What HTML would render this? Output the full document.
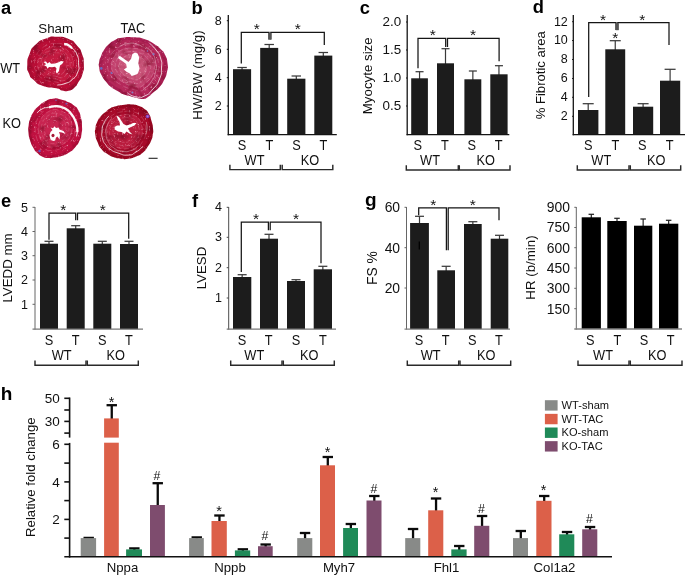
<!DOCTYPE html>
<html><head><meta charset="utf-8"><title>Figure</title>
<style>
html,body{margin:0;padding:0;background:#fff;}
body{width:685px;height:576px;overflow:hidden;}
svg{display:block;font-family:"Liberation Sans",Arial,Helvetica,sans-serif;}
</style></head><body>
<svg width="685" height="576" viewBox="0 0 685 576">
<rect width="685" height="576" fill="#fff"/>
<text x="0.90" y="13.80" font-size="18.3" text-anchor="start" font-weight="bold" fill="#000">a</text>
<text x="55.70" y="32.90" font-size="13.3" text-anchor="middle" font-weight="normal" fill="#111">Sham</text>
<text transform="translate(132.90,32.50) scale(1,1.07)" font-size="12.9" text-anchor="middle" font-weight="normal" fill="#111">TAC</text>
<text transform="translate(0.30,73.00) scale(1,1.09)" font-size="12.8" text-anchor="start" font-weight="normal" fill="#111">WT</text>
<text transform="translate(2.40,128.10) scale(1,1.09)" font-size="12.8" text-anchor="start" font-weight="normal" fill="#111">KO</text>
<line x1="148.60" y1="158.30" x2="157.60" y2="158.30" stroke="#222" stroke-width="1.1" stroke-linecap="butt"/>
<defs><filter id="bl" x="-5%" y="-5%" width="110%" height="110%" color-interpolation-filters="sRGB">
<feTurbulence type="fractalNoise" baseFrequency="0.45" numOctaves="3" seed="4" result="n"/>
<feColorMatrix in="n" type="matrix" values="0 0 0 0 1  0 0 0 0 0.82  0 0 0 0 0.88  2.2 0 0 0 -1.38" result="w"/>
<feComposite in="w" in2="SourceGraphic" operator="in" result="wt"/>
<feTurbulence type="fractalNoise" baseFrequency="0.12" numOctaves="2" seed="9" result="n2"/>
<feColorMatrix in="n2" type="matrix" values="0 0 0 0 0.45  0 0 0 0 0.02  0 0 0 0 0.12  0 1.6 0 0 -0.78" result="d"/>
<feComposite in="d" in2="SourceGraphic" operator="in" result="dt"/>
<feMerge result="m"><feMergeNode in="SourceGraphic"/><feMergeNode in="dt"/><feMergeNode in="wt"/></feMerge>
<feGaussianBlur in="m" stdDeviation="0.45"/>
</filter><filter id="bl2" x="-5%" y="-5%" width="110%" height="110%"><feGaussianBlur stdDeviation="0.45"/></filter></defs>
<g filter="url(#bl)">
<path d="M56.5,36.7 C49.0,36.5 52.9,35.9 46.0,38.5 C39.1,41.1 41.3,39.4 35.8,44.6 C30.3,49.8 32.3,47.1 29.5,54.0 C26.7,60.9 27.5,58.7 27.3,65.2 C27.1,71.7 27.0,68.6 29.0,73.5 C31.0,78.4 28.7,75.6 33.4,79.8 C38.1,84.0 35.3,83.2 43.0,86.0 C50.7,88.8 50.2,86.8 56.5,88.3 C62.8,89.8 58.0,89.7 62.0,90.5 C66.0,91.3 64.4,91.8 68.6,90.8 C72.8,89.8 71.3,90.3 74.5,87.5 C77.7,84.7 75.6,86.8 78.3,82.3 C81.0,77.8 80.7,80.1 82.5,74.0 C84.3,67.9 84.0,70.7 83.8,64.0 C83.6,57.3 84.2,60.1 82.0,54.0 C79.8,47.9 81.6,50.8 77.1,45.8 C72.6,40.8 75.5,42.1 68.6,39.1 C61.7,36.1 64.0,36.9 56.5,36.7 Z" fill="#ab0c32"/>
<path d="M56.4,39.4 C49.6,39.2 53.2,38.6 47.0,41.0 C40.7,43.4 42.7,41.8 37.8,46.5 C32.8,51.1 34.6,48.8 32.1,55.0 C29.5,61.1 30.3,59.2 30.1,65.0 C30.0,70.9 29.8,68.1 31.6,72.5 C33.5,76.9 31.4,74.4 35.6,78.2 C39.8,81.9 37.3,81.2 44.2,83.8 C51.2,86.3 50.7,84.5 56.4,85.8 C62.1,87.2 57.7,87.0 61.4,87.8 C65.0,88.5 63.5,89.0 67.3,88.1 C71.0,87.2 69.7,87.6 72.6,85.1 C75.5,82.5 73.6,84.5 76.0,80.4 C78.4,76.4 78.1,78.4 79.8,73.0 C81.5,67.5 81.1,70.0 81.0,64.0 C80.8,58.0 81.4,60.4 79.3,55.0 C77.3,49.5 79.0,52.0 74.9,47.6 C70.9,43.1 73.5,44.3 67.3,41.5 C61.1,38.8 63.2,39.6 56.4,39.4 Z" fill="#b90e36"/>
<path d="M56.1,46.3 C51.3,46.2 53.8,45.8 49.4,47.5 C45.0,49.2 46.4,48.1 42.9,51.4 C39.4,54.7 40.7,53.0 38.9,57.4 C37.0,61.8 37.6,60.4 37.5,64.6 C37.3,68.7 37.2,66.8 38.5,69.9 C39.8,73.0 38.4,71.3 41.4,73.9 C44.3,76.6 42.6,76.1 47.5,77.9 C52.4,79.7 52.1,78.4 56.1,79.4 C60.2,80.3 57.1,80.2 59.7,80.8 C62.2,81.3 61.2,81.6 63.9,81.0 C66.6,80.3 65.6,80.7 67.7,78.9 C69.7,77.0 68.4,78.4 70.1,75.5 C71.8,72.7 71.6,74.1 72.8,70.2 C74.0,66.3 73.7,68.1 73.6,63.8 C73.5,59.6 73.9,61.3 72.5,57.4 C71.0,53.5 72.2,55.4 69.3,52.2 C66.5,49.0 68.3,49.8 63.9,47.9 C59.5,45.9 61.0,46.5 56.1,46.3 Z" fill="#c31a40"/>
<path d="M55.9,52.8 C52.9,52.7 54.5,52.4 51.7,53.5 C48.9,54.6 49.8,53.9 47.6,55.9 C45.4,58.0 46.2,57.0 45.1,59.7 C44.0,62.4 44.3,61.6 44.2,64.2 C44.2,66.8 44.1,65.6 44.9,67.5 C45.7,69.4 44.8,68.4 46.7,70.0 C48.5,71.7 47.4,71.4 50.5,72.5 C53.6,73.6 53.4,72.8 55.9,73.4 C58.4,74.0 56.5,74.0 58.1,74.3 C59.7,74.6 59.1,74.8 60.7,74.4 C62.4,74.0 61.8,74.2 63.1,73.1 C64.4,72.0 63.6,72.8 64.6,71.0 C65.7,69.2 65.6,70.1 66.3,67.7 C67.0,65.3 66.9,66.4 66.8,63.7 C66.8,61.0 67.0,62.1 66.1,59.7 C65.2,57.3 65.9,58.4 64.1,56.4 C62.4,54.4 63.5,55.0 60.7,53.7 C58.0,52.5 58.9,52.9 55.9,52.8 Z" fill="none" stroke="#e9a0b4" stroke-width="0.5" stroke-dasharray="3 1.5" opacity="0.55"/>
<path d="M56.0,49.7 C52.1,49.6 54.2,49.3 50.6,50.6 C47.1,52.0 48.2,51.1 45.4,53.8 C42.5,56.4 43.6,55.1 42.1,58.6 C40.7,62.1 41.1,61.0 41.0,64.4 C40.9,67.7 40.8,66.1 41.9,68.7 C42.9,71.2 41.7,69.7 44.1,71.9 C46.5,74.0 45.1,73.6 49.1,75.1 C53.0,76.5 52.8,75.5 56.0,76.3 C59.3,77.0 56.8,77.0 58.8,77.4 C60.9,77.8 60.1,78.1 62.2,77.6 C64.4,77.0 63.6,77.3 65.3,75.9 C67.0,74.4 65.9,75.5 67.2,73.2 C68.6,70.9 68.5,72.0 69.4,68.9 C70.3,65.8 70.2,67.2 70.1,63.8 C70.0,60.3 70.3,61.7 69.1,58.6 C68.0,55.5 68.9,56.9 66.6,54.4 C64.3,51.8 65.8,52.5 62.2,50.9 C58.7,49.4 59.9,49.8 56.0,49.7 Z" fill="none" stroke="#e9a0b4" stroke-width="0.5" stroke-dasharray="4 2.0" opacity="0.55"/>
<path d="M56.1,46.6 C51.4,46.5 53.9,46.1 49.5,47.8 C45.2,49.4 46.6,48.3 43.1,51.6 C39.6,54.8 40.9,53.2 39.1,57.5 C37.3,61.8 37.8,60.5 37.7,64.6 C37.6,68.7 37.5,66.7 38.8,69.8 C40.1,72.9 38.6,71.1 41.6,73.8 C44.5,76.4 42.8,75.9 47.6,77.7 C52.5,79.5 52.1,78.2 56.1,79.1 C60.1,80.1 57.1,80.0 59.6,80.5 C62.1,81.0 61.1,81.3 63.8,80.7 C66.4,80.1 65.4,80.4 67.5,78.6 C69.5,76.8 68.2,78.2 69.9,75.3 C71.5,72.5 71.4,74.0 72.5,70.1 C73.7,66.3 73.4,68.0 73.3,63.8 C73.2,59.6 73.6,61.3 72.2,57.5 C70.8,53.7 71.9,55.5 69.1,52.3 C66.3,49.2 68.1,50.0 63.8,48.1 C59.4,46.2 60.9,46.7 56.1,46.6 Z" fill="none" stroke="#e9a0b4" stroke-width="0.5" stroke-dasharray="5 2.5" opacity="0.55"/>
<path d="M56.2,43.5 C50.6,43.4 53.6,42.9 48.4,44.9 C43.3,46.8 44.9,45.6 40.8,49.4 C36.7,53.3 38.2,51.3 36.1,56.4 C34.0,61.5 34.6,59.9 34.5,64.8 C34.4,69.6 34.2,67.3 35.8,71.0 C37.3,74.6 35.6,72.5 39.0,75.6 C42.5,78.7 40.5,78.2 46.2,80.3 C51.9,82.4 51.5,80.9 56.2,82.0 C61.0,83.1 57.3,83.0 60.3,83.6 C63.3,84.2 62.2,84.6 65.3,83.8 C68.4,83.1 67.2,83.5 69.7,81.4 C72.1,79.3 70.5,80.9 72.5,77.5 C74.5,74.2 74.2,75.9 75.6,71.3 C77.0,66.8 76.7,68.8 76.6,63.9 C76.5,58.9 76.9,60.9 75.2,56.4 C73.6,51.9 74.9,54.0 71.6,50.3 C68.3,46.6 70.4,47.6 65.3,45.3 C60.1,43.1 61.9,43.7 56.2,43.5 Z" fill="none" stroke="#e9a0b4" stroke-width="0.5" stroke-dasharray="6 3.0" opacity="0.55"/>
</g>
<g filter="url(#bl2)">
<path d="M65.0,44.2 C67.3,45.5 68.0,44.4 72.0,48.0 C76.0,51.6 74.9,49.7 77.1,55.0 C79.3,60.3 78.4,58.3 78.6,64.0 C78.8,69.7 79.9,66.8 77.8,72.0 C75.7,77.2 76.6,75.7 72.3,79.5 C68.0,83.3 69.9,81.7 65.0,83.5 C60.1,85.3 60.1,84.5 57.7,85.0" fill="none" stroke="#fff" stroke-width="0.9" stroke-linecap="round" opacity="0.9"/>
<path d="M65.0,44.0 C66.2,44.4 66.3,43.9 68.5,45.2 C70.7,46.5 70.5,46.9 71.5,47.8" fill="none" stroke="#fff" stroke-width="2.2" stroke-linecap="round" opacity="0.95"/>
<path d="M43.5,62 L46,61.5 L47.5,63.5 L49.5,62 L51,63.8 L55,63.5 L58,62.5 L61,61 L63.8,61.5 L62.5,63.5 L60,65.5 L59.5,68 L59,71 L57,73.5 L55.8,72 L56.5,68.5 L55,66.8 L52,67.3 L49,67 L47.5,68.8 L46.5,66.5 L44.5,65.5 L46,64 Z" fill="#fff"/>
</g>
<g filter="url(#bl)">
<path d="M122.0,37.8 C128.0,36.9 125.6,36.9 133.0,37.3 C140.4,37.7 136.9,36.8 144.1,39.1 C151.3,41.4 149.0,41.0 154.5,44.3 C160.0,47.6 157.0,45.5 160.5,49.0 C164.0,52.5 162.6,49.8 165.0,54.8 C167.4,59.8 166.9,58.2 167.6,63.9 C168.3,69.6 168.1,66.8 167.0,72.0 C165.9,77.2 166.8,74.5 164.3,79.5 C161.8,84.5 163.2,82.7 159.5,87.0 C155.8,91.3 157.0,89.2 153.2,92.5 C149.4,95.8 151.5,94.8 148.0,97.0 C144.5,99.2 146.5,98.7 142.8,99.0 C139.1,99.3 140.9,98.9 137.0,98.0 C133.1,97.1 135.4,97.6 131.1,96.4 C126.8,95.2 128.4,96.2 124.0,94.5 C119.6,92.8 122.3,93.7 118.0,91.2 C113.7,88.7 114.9,90.0 111.0,87.0 C107.1,84.0 109.5,86.1 106.3,82.1 C103.1,78.1 103.9,79.8 101.5,75.0 C99.1,70.2 99.9,72.3 99.2,67.8 C98.5,63.3 98.7,65.4 99.3,61.5 C99.9,57.6 99.5,59.8 101.1,56.0 C102.7,52.2 101.4,53.9 104.0,50.0 C106.6,46.1 105.2,47.6 108.9,44.3 C112.6,41.0 110.6,42.2 115.0,40.0 C119.4,37.8 116.0,38.7 122.0,37.8 Z" fill="#a81e52"/>
<path d="M123.0,40.7 C128.4,39.9 126.3,39.9 132.9,40.3 C139.6,40.7 136.5,39.8 142.9,41.9 C149.4,44.0 147.4,43.6 152.3,46.6 C157.2,49.5 154.5,47.6 157.7,50.8 C160.8,53.9 159.6,51.5 161.8,56.0 C163.9,60.5 163.5,59.0 164.1,64.2 C164.7,69.4 164.5,66.8 163.6,71.5 C162.6,76.2 163.4,73.8 161.1,78.2 C158.9,82.8 160.1,81.1 156.8,85.0 C153.5,88.9 154.6,87.0 151.1,90.0 C147.7,93.0 149.6,92.0 146.4,94.0 C143.3,96.0 145.1,95.5 141.8,95.8 C138.5,96.1 140.1,95.7 136.6,94.9 C133.0,94.1 135.1,94.5 131.2,93.5 C127.3,92.4 128.8,93.3 124.8,91.8 C120.9,90.2 123.3,91.0 119.5,88.8 C115.6,86.5 116.7,87.7 113.2,85.0 C109.6,82.3 111.8,84.2 108.9,80.6 C106.1,77.0 106.7,78.5 104.6,74.2 C102.5,69.9 103.2,71.8 102.5,67.7 C101.9,63.7 102.1,65.6 102.6,62.0 C103.2,58.5 102.8,60.5 104.2,57.1 C105.6,53.7 104.5,55.2 106.8,51.7 C109.2,48.2 108.0,49.6 111.3,46.6 C114.6,43.6 112.8,44.6 116.8,42.7 C120.7,40.8 117.7,41.5 123.0,40.7 Z" fill="#b5285a"/>
<path d="M125.8,48.3 C129.6,47.7 128.1,47.7 132.8,48.0 C137.5,48.3 135.3,47.7 139.9,49.1 C144.5,50.6 143.1,50.4 146.6,52.5 C150.1,54.6 148.2,53.2 150.4,55.5 C152.7,57.7 151.8,56.0 153.3,59.2 C154.8,62.4 154.5,61.3 155.0,65.0 C155.4,68.7 155.3,66.9 154.6,70.2 C153.9,73.5 154.5,71.8 152.9,75.0 C151.3,78.2 152.1,77.0 149.8,79.8 C147.4,82.6 148.2,81.2 145.7,83.3 C143.3,85.5 144.6,84.8 142.4,86.2 C140.2,87.6 141.4,87.3 139.1,87.5 C136.7,87.7 137.9,87.4 135.4,86.8 C132.9,86.3 134.4,86.6 131.6,85.8 C128.8,85.1 129.9,85.7 127.1,84.6 C124.3,83.5 126.0,84.1 123.2,82.5 C120.4,80.9 121.2,81.7 118.7,79.8 C116.2,77.9 117.8,79.2 115.7,76.7 C113.7,74.1 114.2,75.2 112.7,72.1 C111.1,69.1 111.7,70.4 111.2,67.5 C110.7,64.6 110.8,66.0 111.3,63.5 C111.7,61.0 111.4,62.4 112.4,60.0 C113.4,57.5 112.6,58.6 114.3,56.1 C115.9,53.6 115.0,54.6 117.4,52.5 C119.7,50.3 118.5,51.1 121.3,49.7 C124.1,48.3 121.9,48.9 125.8,48.3 Z" fill="#c2426e"/>
<path d="M128.1,54.7 C130.6,54.4 129.6,54.3 132.7,54.5 C135.8,54.7 134.4,54.3 137.4,55.3 C140.4,56.3 139.4,56.1 141.7,57.5 C144.0,58.9 142.8,58.0 144.3,59.4 C145.7,60.9 145.2,59.8 146.2,61.9 C147.1,64.0 147.0,63.3 147.2,65.7 C147.5,68.1 147.5,66.9 147.0,69.1 C146.5,71.3 146.9,70.1 145.9,72.2 C144.8,74.4 145.4,73.6 143.8,75.4 C142.3,77.2 142.8,76.3 141.2,77.7 C139.6,79.1 140.5,78.7 139.0,79.6 C137.6,80.5 138.4,80.3 136.8,80.4 C135.3,80.6 136.0,80.4 134.4,80.0 C132.8,79.7 133.7,79.8 131.9,79.3 C130.1,78.9 130.8,79.3 128.9,78.5 C127.1,77.8 128.2,78.2 126.4,77.2 C124.6,76.1 125.1,76.7 123.5,75.4 C121.8,74.1 122.8,75.0 121.5,73.3 C120.2,71.7 120.5,72.4 119.5,70.4 C118.5,68.4 118.8,69.2 118.5,67.3 C118.2,65.4 118.3,66.3 118.6,64.7 C118.8,63.0 118.7,64.0 119.3,62.4 C120.0,60.8 119.4,61.5 120.5,59.9 C121.6,58.2 121.0,58.9 122.6,57.5 C124.1,56.1 123.3,56.6 125.2,55.7 C127.0,54.7 125.6,55.1 128.1,54.7 Z" fill="#c95479"/>
<path d="M128.3,55.3 C130.7,55.0 129.8,54.9 132.7,55.1 C135.6,55.3 134.3,54.9 137.1,55.8 C140.0,56.8 139.1,56.6 141.3,57.9 C143.5,59.2 142.3,58.4 143.7,59.8 C145.1,61.2 144.6,60.1 145.5,62.1 C146.4,64.1 146.3,63.5 146.5,65.8 C146.8,68.1 146.7,66.9 146.3,69.0 C145.9,71.1 146.2,70.0 145.2,72.0 C144.2,74.0 144.8,73.3 143.3,75.0 C141.8,76.7 142.3,75.9 140.8,77.2 C139.2,78.5 140.1,78.1 138.7,79.0 C137.3,79.9 138.1,79.7 136.6,79.8 C135.2,79.9 135.9,79.7 134.3,79.4 C132.7,79.1 133.7,79.2 131.9,78.8 C130.2,78.3 130.8,78.7 129.1,78.0 C127.4,77.3 128.4,77.7 126.7,76.7 C125.0,75.7 125.5,76.2 123.9,75.0 C122.3,73.8 123.3,74.6 122.0,73.0 C120.8,71.4 121.0,72.1 120.1,70.2 C119.2,68.3 119.5,69.1 119.2,67.3 C118.9,65.5 119.0,66.4 119.2,64.8 C119.5,63.2 119.3,64.1 119.9,62.6 C120.6,61.1 120.1,61.8 121.1,60.2 C122.1,58.6 121.6,59.3 123.1,57.9 C124.5,56.6 123.8,57.1 125.5,56.2 C127.2,55.3 125.9,55.7 128.3,55.3 Z" fill="none" stroke="#f0c0d2" stroke-width="0.5" stroke-dasharray="3 1.5" opacity="0.55"/>
<path d="M127.1,52.0 C130.2,51.5 129.0,51.5 132.8,51.7 C136.6,51.9 134.8,51.4 138.5,52.6 C142.2,53.8 141.0,53.6 143.8,55.3 C146.6,57.0 145.1,55.9 146.9,57.7 C148.7,59.5 148.0,58.2 149.2,60.7 C150.5,63.3 150.2,62.5 150.6,65.4 C150.9,68.4 150.8,66.9 150.3,69.6 C149.7,72.3 150.2,70.9 148.9,73.4 C147.6,76.0 148.3,75.1 146.4,77.3 C144.5,79.5 145.1,78.4 143.2,80.1 C141.2,81.8 142.3,81.3 140.5,82.5 C138.7,83.6 139.7,83.3 137.8,83.5 C135.9,83.7 136.8,83.4 134.8,83.0 C132.8,82.5 134.0,82.7 131.8,82.1 C129.5,81.5 130.4,82.1 128.1,81.2 C125.9,80.3 127.3,80.8 125.0,79.5 C122.8,78.2 123.4,78.9 121.4,77.3 C119.4,75.7 120.6,76.8 119.0,74.8 C117.4,72.7 117.8,73.6 116.5,71.1 C115.3,68.7 115.7,69.7 115.4,67.4 C115.0,65.1 115.1,66.2 115.4,64.2 C115.7,62.1 115.5,63.3 116.3,61.3 C117.1,59.4 116.5,60.3 117.8,58.2 C119.2,56.2 118.5,57.0 120.3,55.3 C122.2,53.6 121.2,54.2 123.5,53.1 C125.7,52.0 124.0,52.4 127.1,52.0 Z" fill="none" stroke="#f0c0d2" stroke-width="0.5" stroke-dasharray="4 2.0" opacity="0.55"/>
<path d="M125.9,48.6 C129.7,48.0 128.2,48.0 132.8,48.3 C137.5,48.6 135.3,48.0 139.8,49.4 C144.3,50.9 142.9,50.6 146.4,52.7 C149.8,54.8 147.9,53.5 150.1,55.7 C152.3,57.9 151.5,56.2 153.0,59.3 C154.5,62.4 154.2,61.4 154.6,65.0 C155.0,68.7 154.9,66.9 154.2,70.2 C153.5,73.4 154.1,71.7 152.5,74.9 C151.0,78.0 151.8,76.9 149.5,79.6 C147.2,82.3 148.0,81.0 145.5,83.1 C143.1,85.2 144.4,84.5 142.3,85.9 C140.1,87.3 141.3,87.0 139.0,87.2 C136.7,87.4 137.8,87.1 135.3,86.5 C132.9,86.0 134.3,86.3 131.6,85.5 C128.9,84.8 129.9,85.4 127.1,84.3 C124.4,83.2 126.1,83.8 123.4,82.2 C120.6,80.7 121.4,81.5 119.0,79.6 C116.5,77.7 118.0,79.0 116.0,76.5 C114.0,74.0 114.5,75.0 113.0,72.0 C111.5,69.0 112.0,70.3 111.5,67.5 C111.1,64.7 111.2,66.0 111.6,63.5 C112.0,61.1 111.7,62.5 112.7,60.1 C113.7,57.7 112.9,58.7 114.5,56.3 C116.2,53.8 115.3,54.8 117.6,52.7 C119.9,50.6 118.7,51.4 121.5,50.0 C124.2,48.6 122.1,49.2 125.9,48.6 Z" fill="none" stroke="#f0c0d2" stroke-width="0.5" stroke-dasharray="5 2.5" opacity="0.55"/>
<path d="M124.7,45.2 C129.1,44.6 127.4,44.6 132.9,44.9 C138.4,45.2 135.8,44.5 141.1,46.2 C146.5,48.0 144.8,47.6 148.9,50.1 C153.0,52.5 150.8,51.0 153.4,53.6 C156.0,56.2 154.9,54.2 156.7,57.9 C158.5,61.6 158.2,60.4 158.6,64.7 C159.1,69.0 159.0,66.9 158.2,70.7 C157.4,74.6 158.1,72.6 156.2,76.3 C154.3,80.0 155.4,78.7 152.6,81.9 C149.9,85.1 150.8,83.5 147.9,86.0 C145.1,88.5 146.6,87.7 144.0,89.3 C141.5,91.0 142.9,90.6 140.2,90.8 C137.4,91.1 138.8,90.7 135.9,90.1 C132.9,89.4 134.7,89.8 131.5,88.9 C128.2,88.0 129.4,88.8 126.2,87.5 C122.9,86.2 124.9,86.9 121.7,85.0 C118.5,83.2 119.4,84.2 116.5,81.9 C113.6,79.6 115.3,81.2 113.0,78.2 C110.6,75.3 111.2,76.5 109.4,73.0 C107.6,69.4 108.2,70.9 107.7,67.6 C107.1,64.2 107.3,65.8 107.8,62.9 C108.2,60.0 107.9,61.7 109.1,58.8 C110.3,55.9 109.3,57.2 111.3,54.3 C113.2,51.4 112.2,52.6 114.9,50.1 C117.6,47.6 116.2,48.5 119.5,46.9 C122.7,45.3 120.2,45.9 124.7,45.2 Z" fill="none" stroke="#f0c0d2" stroke-width="0.5" stroke-dasharray="6 3.0" opacity="0.55"/>
</g>
<g filter="url(#bl2)">
<path d="M149.3,43.0 C151.5,45.3 152.3,45.0 156.0,50.0 C159.7,55.0 158.7,52.0 160.5,58.0 C162.3,64.0 161.8,61.0 161.5,68.0 C161.2,75.0 162.3,72.0 159.5,79.0 C156.7,86.0 158.1,83.3 153.0,89.0 C147.9,94.7 149.8,93.6 144.1,96.2 C138.4,98.8 141.4,97.7 136.0,96.8 C130.6,95.9 130.7,94.6 128.0,93.5" fill="none" stroke="#fff" stroke-width="0.9" stroke-linecap="round" opacity="0.85"/>
<path d="M146.0,47.0 C148.0,49.0 148.8,48.0 152.0,53.0 C155.2,58.0 154.3,55.7 155.5,62.0 C156.7,68.3 157.0,65.3 155.5,72.0 C154.0,78.7 155.0,76.3 151.0,82.0 C147.0,87.7 146.0,86.7 143.5,89.0" fill="none" stroke="#fff" stroke-width="0.6" stroke-linecap="round" opacity="0.6"/>
<path d="M120.0,46.0 C122.7,45.2 122.7,44.2 128.0,43.5 C133.3,42.8 131.3,43.0 136.0,44.0 C140.7,45.0 140.0,45.7 142.0,46.5" fill="none" stroke="#fff" stroke-width="0.6" stroke-linecap="round" opacity="0.6"/>
<path d="M118.1,56.7 L120,56.1 L124.6,59.3 L128.5,61.9 L131.1,58.7 L132.4,54.1 L135,52.4 L137.6,53.5 L139.2,57.4 L138.3,63.2 L139.6,68.4 L137.9,73.6 L135,75 L131.7,75.9 L129.8,73.6 L126.5,71.7 L123.9,69.5 L126.8,67.5 L126.1,64.1 L122.6,61.3 L118.7,58.7 Z" fill="#fff"/>
<circle cx="101.3" cy="68.4" r="1.3" fill="#5b78d8" opacity="0.85"/>
<circle cx="111.5" cy="73" r="1.0" fill="#6a7fd0" opacity="0.85"/>
<circle cx="153.5" cy="54.3" r="1.0" fill="#6a7fd0" opacity="0.85"/>
<circle cx="132.4" cy="92.5" r="1.0" fill="#7f8fd8" opacity="0.85"/>
<circle cx="147.5" cy="51" r="0.8" fill="#7f8fd8" opacity="0.85"/>
</g>
<g filter="url(#bl)">
<path d="M52.8,98.7 C58.1,98.0 55.7,98.3 61.0,99.5 C66.3,100.7 64.3,100.3 68.6,102.3 C72.9,104.3 70.8,102.9 74.0,105.5 C77.2,108.1 76.0,106.0 78.3,110.2 C80.6,114.4 79.8,112.7 81.0,118.0 C82.2,123.3 81.8,120.7 82.0,126.0 C82.2,131.3 82.3,129.1 81.5,134.0 C80.7,138.9 81.8,136.1 79.6,140.6 C77.4,145.1 78.7,143.4 75.0,147.5 C71.3,151.6 73.1,150.0 68.6,152.8 C64.1,155.6 66.4,154.4 61.5,156.0 C56.6,157.6 58.5,156.9 54.0,157.6 C49.5,158.3 51.6,158.2 48.0,158.0 C44.4,157.8 46.6,158.7 43.1,157.0 C39.6,155.3 40.7,156.0 37.5,153.0 C34.3,150.0 35.9,152.2 33.4,147.9 C30.9,143.6 31.6,145.3 30.0,140.0 C28.4,134.7 28.9,137.1 28.5,132.1 C28.1,127.1 28.1,129.5 28.7,125.0 C29.3,120.5 28.7,123.0 30.3,118.7 C31.9,114.4 30.9,116.0 33.5,112.0 C36.1,108.0 34.4,110.1 38.2,106.6 C42.0,103.1 40.1,104.1 45.0,101.5 C49.9,98.9 47.5,99.4 52.8,98.7 Z" fill="#b40e3c"/>
<path d="M53.0,101.7 C57.8,101.1 55.7,101.3 60.4,102.4 C65.1,103.5 63.3,103.1 67.2,104.9 C71.1,106.7 69.2,105.4 72.1,107.8 C75.0,110.2 73.9,108.3 76.0,112.0 C78.1,115.8 77.3,114.3 78.4,119.0 C79.5,123.8 79.2,121.5 79.3,126.2 C79.4,131.1 79.6,129.1 78.8,133.4 C78.1,137.8 79.1,135.3 77.1,139.4 C75.2,143.4 76.3,141.9 73.0,145.6 C69.7,149.3 71.3,147.8 67.2,150.4 C63.2,152.9 65.2,151.8 60.9,153.2 C56.5,154.7 58.1,154.1 54.1,154.7 C50.1,155.3 52.0,155.2 48.7,155.1 C45.4,154.9 47.4,155.7 44.3,154.2 C41.1,152.7 42.2,153.3 39.2,150.6 C36.3,147.8 37.8,149.9 35.6,146.0 C33.3,142.1 34.0,143.6 32.5,138.8 C31.0,134.1 31.5,136.2 31.1,131.7 C30.8,127.2 30.8,129.4 31.3,125.3 C31.9,121.3 31.3,123.6 32.8,119.7 C34.2,115.8 33.3,117.3 35.6,113.7 C38.0,110.0 36.4,111.9 39.9,108.8 C43.3,105.6 41.6,106.6 46.0,104.2 C50.4,101.8 48.2,102.3 53.0,101.7 Z" fill="#c01040"/>
<path d="M53.6,109.4 C57.0,109.0 55.5,109.2 58.8,109.9 C62.2,110.7 60.9,110.5 63.7,111.7 C66.5,113.0 65.1,112.1 67.2,113.8 C69.2,115.5 68.4,114.1 69.9,116.8 C71.4,119.5 70.9,118.4 71.6,121.8 C72.4,125.2 72.2,123.5 72.3,126.9 C72.4,130.3 72.5,128.9 72.0,132.0 C71.4,135.1 72.1,133.4 70.7,136.2 C69.4,139.1 70.1,138.1 67.8,140.7 C65.5,143.3 66.6,142.2 63.7,144.1 C60.8,145.9 62.3,145.1 59.2,146.1 C56.0,147.1 57.2,146.7 54.4,147.1 C51.5,147.6 52.8,147.5 50.5,147.4 C48.2,147.3 49.6,147.8 47.4,146.7 C45.1,145.7 45.9,146.1 43.8,144.2 C41.7,142.2 42.8,143.7 41.2,140.9 C39.6,138.1 40.0,139.2 39.0,135.9 C38.0,132.5 38.3,134.0 38.0,130.8 C37.8,127.6 37.8,129.1 38.2,126.3 C38.6,123.4 38.2,125.0 39.2,122.2 C40.2,119.5 39.6,120.5 41.2,117.9 C42.9,115.4 41.8,116.7 44.2,114.5 C46.7,112.2 45.5,112.9 48.6,111.2 C51.7,109.5 50.2,109.9 53.6,109.4 Z" fill="#c82450"/>
<path d="M54.1,116.6 C56.3,116.3 55.3,116.4 57.4,116.9 C59.5,117.4 58.7,117.2 60.4,118.0 C62.2,118.8 61.3,118.2 62.6,119.3 C63.9,120.4 63.4,119.5 64.3,121.2 C65.3,122.8 64.9,122.2 65.4,124.3 C65.9,126.4 65.7,125.4 65.8,127.5 C65.9,129.6 65.9,128.8 65.6,130.7 C65.3,132.6 65.7,131.5 64.8,133.3 C64.0,135.1 64.5,134.5 63.0,136.1 C61.5,137.7 62.2,137.1 60.4,138.2 C58.6,139.4 59.5,138.9 57.6,139.5 C55.7,140.1 56.4,139.9 54.6,140.1 C52.8,140.4 53.7,140.4 52.2,140.3 C50.7,140.2 51.6,140.6 50.2,139.9 C48.8,139.2 49.3,139.5 48.0,138.3 C46.7,137.1 47.4,138.0 46.4,136.3 C45.4,134.5 45.7,135.2 45.0,133.1 C44.3,131.0 44.6,131.9 44.4,129.9 C44.2,127.9 44.2,128.9 44.5,127.1 C44.7,125.3 44.5,126.3 45.1,124.6 C45.8,122.8 45.3,123.5 46.4,121.9 C47.5,120.3 46.7,121.1 48.3,119.7 C49.8,118.3 49.1,118.8 51.0,117.7 C52.9,116.6 52.0,116.8 54.1,116.6 Z" fill="none" stroke="#eda4b4" stroke-width="0.5" stroke-dasharray="3 1.5" opacity="0.55"/>
<path d="M53.9,113.2 C56.6,112.8 55.4,112.9 58.1,113.6 C60.8,114.2 59.8,114.0 62.0,115.0 C64.2,116.0 63.1,115.3 64.8,116.7 C66.5,118.0 65.8,116.9 67.0,119.1 C68.2,121.2 67.8,120.4 68.4,123.1 C69.0,125.8 68.8,124.5 68.9,127.2 C69.0,130.0 69.1,128.8 68.6,131.3 C68.2,133.8 68.8,132.4 67.7,134.7 C66.6,137.0 67.2,136.2 65.3,138.3 C63.4,140.4 64.3,139.6 62.0,141.0 C59.7,142.5 60.9,141.8 58.3,142.7 C55.8,143.5 56.8,143.1 54.5,143.5 C52.2,143.8 53.3,143.8 51.4,143.7 C49.5,143.6 50.7,144.0 48.9,143.2 C47.1,142.3 47.7,142.7 46.0,141.1 C44.3,139.6 45.2,140.7 43.9,138.5 C42.6,136.3 43.0,137.1 42.1,134.4 C41.3,131.7 41.6,132.9 41.4,130.4 C41.1,127.8 41.1,129.0 41.5,126.7 C41.8,124.4 41.5,125.7 42.3,123.5 C43.1,121.2 42.6,122.1 43.9,120.0 C45.3,117.9 44.4,119.0 46.3,117.2 C48.3,115.4 47.3,116.0 49.9,114.6 C52.4,113.2 51.1,113.5 53.9,113.2 Z" fill="none" stroke="#eda4b4" stroke-width="0.5" stroke-dasharray="4 2.0" opacity="0.55"/>
<path d="M53.6,109.7 C57.0,109.3 55.5,109.5 58.8,110.2 C62.1,111.0 60.8,110.7 63.6,112.0 C66.3,113.3 64.9,112.4 67.0,114.0 C69.0,115.7 68.2,114.3 69.7,117.0 C71.1,119.6 70.6,118.6 71.4,121.9 C72.2,125.2 71.9,123.6 72.0,126.9 C72.1,130.3 72.2,128.9 71.7,132.0 C71.2,135.0 71.9,133.3 70.5,136.1 C69.1,139.0 69.9,137.9 67.6,140.5 C65.3,143.0 66.4,142.0 63.6,143.8 C60.7,145.6 62.2,144.8 59.1,145.8 C56.0,146.8 57.2,146.4 54.4,146.8 C51.5,147.3 52.9,147.2 50.6,147.1 C48.3,147.0 49.7,147.5 47.5,146.5 C45.3,145.4 46.0,145.8 44.0,143.9 C41.9,142.0 43.0,143.5 41.4,140.7 C39.8,138.0 40.3,139.1 39.2,135.7 C38.2,132.4 38.6,133.9 38.3,130.8 C38.0,127.6 38.1,129.1 38.4,126.3 C38.8,123.5 38.4,125.1 39.4,122.3 C40.4,119.6 39.8,120.6 41.5,118.1 C43.1,115.6 42.0,116.9 44.4,114.7 C46.8,112.5 45.6,113.1 48.7,111.5 C51.8,109.8 50.3,110.1 53.6,109.7 Z" fill="none" stroke="#eda4b4" stroke-width="0.5" stroke-dasharray="5 2.5" opacity="0.55"/>
<path d="M53.4,106.3 C57.3,105.8 55.5,106.0 59.5,106.9 C63.4,107.8 61.9,107.5 65.1,109.0 C68.4,110.5 66.7,109.4 69.2,111.4 C71.6,113.3 70.6,111.8 72.4,114.9 C74.1,118.0 73.5,116.8 74.4,120.7 C75.3,124.6 75.0,122.7 75.1,126.6 C75.2,130.6 75.3,129.0 74.7,132.6 C74.1,136.2 74.9,134.2 73.3,137.5 C71.7,140.9 72.6,139.6 69.9,142.7 C67.2,145.7 68.5,144.5 65.1,146.6 C61.8,148.7 63.5,147.8 59.8,149.0 C56.2,150.2 57.6,149.7 54.3,150.2 C50.9,150.7 52.5,150.6 49.8,150.5 C47.1,150.3 48.7,151.0 46.1,149.7 C43.5,148.5 44.4,149.0 42.0,146.8 C39.6,144.5 40.8,146.2 38.9,143.0 C37.0,139.7 37.6,141.0 36.4,137.1 C35.2,133.1 35.6,134.9 35.3,131.2 C34.9,127.5 35.0,129.2 35.4,125.9 C35.9,122.6 35.4,124.4 36.6,121.2 C37.8,118.0 37.0,119.2 39.0,116.2 C40.9,113.2 39.6,114.8 42.5,112.2 C45.3,109.6 43.9,110.3 47.5,108.4 C51.2,106.4 49.4,106.8 53.4,106.3 Z" fill="none" stroke="#eda4b4" stroke-width="0.5" stroke-dasharray="6 3.0" opacity="0.55"/>
</g>
<g filter="url(#bl2)">
<path d="M37.5,112.5 C39.0,111.3 38.5,110.7 42.0,109.0 C45.5,107.3 44.0,108.1 48.0,107.3 C52.0,106.5 52.0,106.8 54.0,106.6" fill="none" stroke="#fff" stroke-width="0.9" stroke-linecap="round" opacity="0.9"/>
<path d="M50.0,107.0 C52.0,106.7 52.0,106.1 56.0,106.2 C60.0,106.3 58.3,106.1 62.0,107.3 C65.7,108.5 64.0,107.7 67.0,109.8 C70.0,111.9 68.5,110.6 71.0,113.7 C73.5,116.8 72.6,115.1 74.5,119.0 C76.4,122.9 75.9,121.5 76.8,125.5 C77.7,129.5 77.1,129.2 77.3,131.0" fill="none" stroke="#fff" stroke-width="2.3" stroke-linecap="round" opacity="0.95"/>
<path d="M71.0,113.7 C72.2,115.5 72.6,115.1 74.5,119.0 C76.4,122.9 75.9,121.5 76.8,125.5 C77.7,129.5 77.4,127.5 77.3,131.0 C77.2,134.5 76.8,134.3 76.5,136.0" fill="none" stroke="#fff" stroke-width="1.0" stroke-linecap="round" opacity="0.9"/>
<path d="M50.5,127.5 L53,128.3 L54.5,126.2 L56,128 L58.5,127.5 L59.5,129.5 L63.5,131 L65.5,134 L62,132.5 L59,132 L60,135 L59.5,139.5 L57.5,136.5 L56,137.5 L55,140.5 L53.5,141 L50.5,139.5 L49.5,135.5 L50.5,132 L52.5,130 Z" fill="#fff"/>
<circle cx="39.5" cy="151" r="1.2" fill="#5568e0" opacity="0.85"/>
<circle cx="66.3" cy="103.7" r="0.9" fill="#6070d8" opacity="0.85"/>
<circle cx="56" cy="100.3" r="0.7" fill="#6a7ad8" opacity="0.85"/>
</g>
<ellipse cx="53" cy="135.5" rx="1.5" ry="1.8" fill="#b8203f" filter="url(#bl)"/>
<ellipse cx="57.3" cy="139.3" rx="1.2" ry="1.3" fill="#b8203f" filter="url(#bl)"/>
<g filter="url(#bl)">
<path d="M124.5,104.7 C130.3,104.0 127.2,104.1 132.0,104.5 C136.8,104.9 134.8,104.4 139.0,105.9 C143.2,107.4 141.2,106.4 144.5,109.0 C147.8,111.6 146.5,109.8 148.8,113.8 C151.1,117.8 150.1,116.1 151.5,121.0 C152.9,125.9 152.6,123.7 153.0,128.4 C153.4,133.1 153.3,131.0 152.7,135.0 C152.1,139.0 152.9,136.5 151.2,140.5 C149.5,144.5 150.3,142.9 147.5,147.0 C144.7,151.1 146.5,149.5 142.7,152.7 C138.9,155.9 140.9,154.5 136.0,156.5 C131.1,158.5 133.1,158.0 128.1,158.8 C123.1,159.6 125.5,159.2 121.0,158.8 C116.5,158.4 119.2,159.2 114.7,157.6 C110.2,156.0 111.9,156.9 107.5,154.0 C103.1,151.1 104.7,153.0 101.4,149.0 C98.1,145.0 99.5,146.8 97.5,142.0 C95.5,137.2 96.0,139.2 95.3,134.5 C94.6,129.8 94.9,132.1 95.5,128.0 C96.1,123.9 95.3,126.3 97.1,122.3 C98.9,118.3 98.0,119.6 101.0,116.0 C104.0,112.4 103.2,113.9 106.2,111.4 C109.2,108.9 107.2,110.1 110.0,108.5 C112.8,106.9 109.9,107.8 114.7,106.5 C119.5,105.2 118.7,105.4 124.5,104.7 Z" fill="#980620"/>
<path d="M124.5,107.4 C129.7,106.8 126.9,106.8 131.2,107.2 C135.6,107.6 133.8,107.1 137.6,108.5 C141.3,109.8 139.6,108.9 142.5,111.2 C145.4,113.6 144.3,112.0 146.4,115.6 C148.5,119.2 147.5,117.7 148.8,122.0 C150.1,126.4 149.8,124.5 150.2,128.7 C150.5,132.9 150.4,131.0 149.9,134.7 C149.3,138.3 150.1,136.0 148.5,139.6 C147.0,143.2 147.8,141.8 145.2,145.4 C142.6,149.1 144.3,147.7 140.9,150.6 C137.4,153.4 139.2,152.2 134.8,154.0 C130.5,155.8 132.2,155.4 127.7,156.1 C123.2,156.8 125.4,156.4 121.3,156.1 C117.3,155.7 119.7,156.4 115.7,155.0 C111.6,153.6 113.2,154.3 109.2,151.8 C105.2,149.2 106.7,150.8 103.7,147.2 C100.7,143.7 102.0,145.3 100.2,140.9 C98.4,136.6 98.8,138.4 98.2,134.2 C97.6,130.0 97.9,132.0 98.4,128.3 C98.9,124.7 98.2,126.8 99.8,123.2 C101.5,119.6 100.6,120.8 103.3,117.5 C106.1,114.3 105.3,115.7 108.0,113.4 C110.7,111.2 108.9,112.3 111.5,110.8 C114.0,109.3 111.3,110.1 115.7,109.0 C120.0,107.9 119.3,108.0 124.5,107.4 Z" fill="#a80a2a"/>
<path d="M124.5,114.3 C128.2,113.9 126.2,114.0 129.3,114.2 C132.4,114.5 131.1,114.2 133.8,115.1 C136.4,116.1 135.2,115.4 137.3,117.1 C139.4,118.8 138.6,117.6 140.1,120.2 C141.5,122.7 140.9,121.7 141.8,124.8 C142.7,127.9 142.5,126.5 142.7,129.5 C143.0,132.5 142.9,131.2 142.5,133.7 C142.2,136.3 142.7,134.7 141.6,137.3 C140.5,139.8 141.0,138.8 139.2,141.4 C137.4,144.0 138.6,143.0 136.1,145.1 C133.7,147.1 135.0,146.2 131.9,147.5 C128.7,148.8 130.0,148.5 126.8,149.0 C123.6,149.5 125.1,149.2 122.3,149.0 C119.4,148.7 121.1,149.2 118.2,148.2 C115.3,147.2 116.5,147.7 113.6,145.9 C110.8,144.1 111.8,145.3 109.7,142.7 C107.6,140.1 108.5,141.3 107.2,138.2 C105.9,135.1 106.2,136.4 105.8,133.4 C105.4,130.4 105.6,131.9 105.9,129.3 C106.3,126.7 105.8,128.2 107.0,125.6 C108.1,123.1 107.5,123.9 109.5,121.6 C111.4,119.3 110.9,120.2 112.8,118.6 C114.7,117.0 113.4,117.8 115.2,116.8 C117.0,115.7 115.1,116.3 118.2,115.5 C121.3,114.7 120.8,114.8 124.5,114.3 Z" fill="#ba1c3e"/>
<path d="M124.5,120.8 C126.8,120.5 125.6,120.5 127.5,120.7 C129.4,120.9 128.6,120.7 130.3,121.3 C132.0,121.9 131.2,121.4 132.5,122.5 C133.8,123.6 133.3,122.8 134.2,124.4 C135.2,126.0 134.7,125.4 135.3,127.3 C135.9,129.2 135.7,128.4 135.9,130.3 C136.1,132.1 136.0,131.3 135.8,132.9 C135.5,134.5 135.9,133.5 135.2,135.1 C134.5,136.7 134.8,136.1 133.7,137.7 C132.6,139.3 133.3,138.7 131.8,140.0 C130.2,141.2 131.0,140.7 129.1,141.5 C127.2,142.3 127.9,142.1 125.9,142.4 C123.9,142.7 124.9,142.6 123.1,142.4 C121.3,142.3 122.4,142.6 120.6,141.9 C118.8,141.3 119.5,141.6 117.7,140.5 C115.9,139.4 116.6,140.1 115.3,138.5 C113.9,136.9 114.5,137.6 113.7,135.7 C112.9,133.8 113.1,134.6 112.8,132.7 C112.6,130.8 112.7,131.7 112.9,130.1 C113.1,128.5 112.8,129.4 113.5,127.8 C114.3,126.2 113.9,126.8 115.1,125.3 C116.3,123.8 116.0,124.5 117.2,123.5 C118.4,122.5 117.6,123.0 118.7,122.3 C119.8,121.6 118.6,122.0 120.6,121.5 C122.5,121.0 122.2,121.0 124.5,120.8 Z" fill="none" stroke="#eaa0ae" stroke-width="0.5" stroke-dasharray="3 1.5" opacity="0.55"/>
<path d="M124.5,117.7 C127.5,117.4 125.9,117.4 128.4,117.6 C130.9,117.8 129.8,117.5 132.0,118.3 C134.1,119.1 133.1,118.6 134.8,119.9 C136.5,121.3 135.8,120.3 137.0,122.4 C138.2,124.4 137.7,123.6 138.4,126.1 C139.1,128.6 139.0,127.5 139.2,129.9 C139.4,132.3 139.3,131.2 139.0,133.3 C138.7,135.4 139.1,134.1 138.3,136.1 C137.4,138.2 137.8,137.4 136.3,139.5 C134.9,141.6 135.8,140.8 133.9,142.4 C131.9,144.0 132.9,143.3 130.4,144.4 C127.9,145.4 128.9,145.2 126.4,145.6 C123.8,146.0 125.0,145.8 122.7,145.6 C120.4,145.4 121.8,145.8 119.5,144.9 C117.1,144.1 118.0,144.6 115.7,143.1 C113.5,141.6 114.3,142.6 112.6,140.5 C110.9,138.5 111.6,139.4 110.6,136.9 C109.5,134.4 109.8,135.4 109.5,133.0 C109.1,130.6 109.3,131.8 109.6,129.7 C109.9,127.6 109.4,128.8 110.4,126.8 C111.3,124.7 110.8,125.4 112.4,123.5 C114.0,121.6 113.5,122.4 115.1,121.1 C116.6,119.9 115.6,120.5 117.0,119.7 C118.5,118.8 117.0,119.3 119.5,118.6 C121.9,118.0 121.5,118.0 124.5,117.7 Z" fill="none" stroke="#eaa0ae" stroke-width="0.5" stroke-dasharray="4 2.0" opacity="0.55"/>
<path d="M124.5,114.6 C128.1,114.2 126.2,114.2 129.2,114.5 C132.3,114.7 131.0,114.4 133.6,115.4 C136.3,116.3 135.0,115.7 137.1,117.3 C139.2,119.0 138.3,117.8 139.8,120.3 C141.3,122.9 140.6,121.8 141.5,124.9 C142.4,128.0 142.2,126.6 142.5,129.5 C142.7,132.5 142.6,131.2 142.3,133.7 C141.9,136.2 142.4,134.7 141.3,137.2 C140.2,139.7 140.8,138.7 139.0,141.3 C137.2,143.8 138.4,142.9 136.0,144.9 C133.6,146.9 134.8,146.0 131.7,147.2 C128.7,148.5 129.9,148.2 126.8,148.7 C123.6,149.2 125.1,149.0 122.3,148.7 C119.5,148.4 121.2,149.0 118.3,147.9 C115.5,146.9 116.6,147.5 113.8,145.7 C111.0,143.9 112.0,145.0 109.9,142.5 C107.8,140.0 108.8,141.2 107.5,138.1 C106.2,135.1 106.5,136.3 106.1,133.4 C105.7,130.4 105.9,131.9 106.2,129.3 C106.6,126.7 106.1,128.2 107.2,125.7 C108.4,123.2 107.8,124.0 109.7,121.7 C111.6,119.4 111.1,120.4 113.0,118.8 C114.9,117.3 113.6,118.0 115.4,117.0 C117.1,116.0 115.3,116.5 118.3,115.8 C121.4,115.0 120.9,115.0 124.5,114.6 Z" fill="none" stroke="#eaa0ae" stroke-width="0.5" stroke-dasharray="5 2.5" opacity="0.55"/>
<path d="M124.5,111.5 C128.8,111.0 126.5,111.1 130.1,111.4 C133.7,111.7 132.2,111.3 135.3,112.4 C138.4,113.5 137.0,112.8 139.4,114.7 C141.8,116.7 140.9,115.3 142.6,118.3 C144.3,121.3 143.6,120.1 144.6,123.7 C145.7,127.3 145.4,125.7 145.7,129.2 C146.0,132.7 146.0,131.1 145.5,134.1 C145.1,137.1 145.7,135.2 144.4,138.2 C143.1,141.2 143.7,140.0 141.6,143.0 C139.5,146.1 140.9,144.9 138.1,147.3 C135.2,149.7 136.7,148.6 133.1,150.1 C129.4,151.6 130.9,151.3 127.2,151.8 C123.5,152.4 125.2,152.1 121.9,151.8 C118.6,151.5 120.6,152.1 117.2,150.9 C113.8,149.8 115.1,150.4 111.8,148.3 C108.5,146.1 109.8,147.5 107.3,144.5 C104.8,141.6 105.9,142.9 104.4,139.3 C102.9,135.7 103.2,137.2 102.7,133.7 C102.2,130.3 102.4,131.9 102.9,128.9 C103.3,125.9 102.7,127.6 104.1,124.6 C105.5,121.7 104.7,122.7 107.0,120.0 C109.3,117.2 108.6,118.4 110.9,116.5 C113.1,114.7 111.6,115.6 113.7,114.4 C115.8,113.1 113.6,113.8 117.2,112.9 C120.8,111.9 120.2,112.0 124.5,111.5 Z" fill="none" stroke="#eaa0ae" stroke-width="0.5" stroke-dasharray="6 3.0" opacity="0.55"/>
</g>
<g filter="url(#bl2)">
<path d="M108.7,116.2 C107.1,118.5 106.2,118.1 104.0,123.0 C101.8,127.9 102.4,125.7 102.0,131.0 C101.6,136.3 101.5,134.5 102.7,139.0 C103.9,143.5 103.1,141.2 105.5,144.5 C107.9,147.8 105.7,146.2 109.9,149.0 C114.1,151.8 111.9,151.0 118.0,153.0 C124.1,155.0 122.1,155.4 128.1,155.1 C134.1,154.8 131.1,154.8 136.0,152.0 C140.9,149.2 140.5,148.4 142.7,146.6" fill="none" stroke="#fff" stroke-width="0.9" stroke-linecap="round" opacity="0.8"/>
<path d="M111.0,119.0 C109.7,121.3 108.7,121.0 107.0,126.0 C105.3,131.0 105.5,128.7 106.0,134.0 C106.5,139.3 105.8,137.3 108.5,142.0 C111.2,146.7 109.5,145.0 114.0,148.0 C118.5,151.0 116.3,150.2 122.0,151.0 C127.7,151.8 125.7,152.2 131.0,150.5 C136.3,148.8 135.7,147.5 138.0,146.0" fill="none" stroke="#fff" stroke-width="0.6" stroke-linecap="round" opacity="0.55"/>
<path d="M146.3,122.3 C146.5,124.2 147.1,124.1 147.0,128.0 C146.9,131.9 146.3,132.0 146.0,134.0" fill="none" stroke="#fff" stroke-width="0.7" stroke-linecap="round" opacity="0.6"/>
<path d="M116.5,115.5 L119,117 L121.5,121 L123.5,124 L126.5,125.5 L130,124.5 L133,123 L136.5,123 L134.5,125.5 L131,127 L128,128.5 L129.5,131.5 L132.5,134.5 L129.5,133.5 L126.5,131.5 L124.5,134 L121.5,132 L118,131.5 L114.8,129.5 L114.5,127 L117,125.5 L120,125.5 L119.5,122 L117.5,118.5 Z" fill="#fff"/>
<circle cx="147.6" cy="116.3" r="1.9" fill="#6a4fe0" opacity="0.85"/>
<circle cx="147.6" cy="116.3" r="0.9" fill="#e070c0" opacity="0.85"/>
</g>
<text x="191.50" y="14.00" font-size="18.3" text-anchor="start" font-weight="bold" fill="#000">b</text>
<line x1="242.05" y1="67.50" x2="242.05" y2="70.20" stroke="#3a3a3a" stroke-width="1.2" stroke-linecap="butt"/>
<line x1="237.30" y1="67.50" x2="246.80" y2="67.50" stroke="#3a3a3a" stroke-width="1.25" stroke-linecap="butt"/>
<rect x="233.00" y="69.20" width="18.10" height="65.50" fill="#1c1c1c"/>
<line x1="269.20" y1="44.50" x2="269.20" y2="48.90" stroke="#3a3a3a" stroke-width="1.2" stroke-linecap="butt"/>
<line x1="264.45" y1="44.50" x2="273.95" y2="44.50" stroke="#3a3a3a" stroke-width="1.25" stroke-linecap="butt"/>
<rect x="260.20" y="47.90" width="18.00" height="86.80" fill="#1c1c1c"/>
<line x1="296.30" y1="76.00" x2="296.30" y2="79.70" stroke="#3a3a3a" stroke-width="1.2" stroke-linecap="butt"/>
<line x1="291.55" y1="76.00" x2="301.05" y2="76.00" stroke="#3a3a3a" stroke-width="1.25" stroke-linecap="butt"/>
<rect x="287.20" y="78.70" width="18.20" height="56.00" fill="#1c1c1c"/>
<line x1="323.30" y1="52.50" x2="323.30" y2="56.60" stroke="#3a3a3a" stroke-width="1.2" stroke-linecap="butt"/>
<line x1="318.55" y1="52.50" x2="328.05" y2="52.50" stroke="#3a3a3a" stroke-width="1.25" stroke-linecap="butt"/>
<rect x="314.30" y="55.60" width="18.00" height="79.10" fill="#1c1c1c"/>
<line x1="228.30" y1="15.00" x2="228.30" y2="135.35" stroke="#141414" stroke-width="1.3" stroke-linecap="butt"/>
<line x1="227.65" y1="134.70" x2="336.80" y2="134.70" stroke="#141414" stroke-width="1.3" stroke-linecap="butt"/>
<line x1="226.80" y1="20.70" x2="228.30" y2="20.70" stroke="#141414" stroke-width="1" stroke-linecap="butt"/>
<text x="221.80" y="25.17" font-size="12.5" text-anchor="end" font-weight="normal" fill="#111">8</text>
<line x1="226.80" y1="49.30" x2="228.30" y2="49.30" stroke="#141414" stroke-width="1" stroke-linecap="butt"/>
<text x="221.80" y="53.77" font-size="12.5" text-anchor="end" font-weight="normal" fill="#111">6</text>
<line x1="226.80" y1="77.70" x2="228.30" y2="77.70" stroke="#141414" stroke-width="1" stroke-linecap="butt"/>
<text x="221.80" y="82.17" font-size="12.5" text-anchor="end" font-weight="normal" fill="#111">4</text>
<line x1="226.80" y1="106.00" x2="228.30" y2="106.00" stroke="#141414" stroke-width="1" stroke-linecap="butt"/>
<text x="221.80" y="110.47" font-size="12.5" text-anchor="end" font-weight="normal" fill="#111">2</text>
<text transform="translate(201.80,75.00) rotate(-90)" font-size="13.3" text-anchor="middle" fill="#111">HW/BW (mg/g)</text>
<text transform="translate(242.00,149.90) scale(1,1.09)" font-size="12.8" text-anchor="middle" font-weight="normal" fill="#111">S</text>
<text transform="translate(269.30,149.90) scale(1,1.09)" font-size="12.8" text-anchor="middle" font-weight="normal" fill="#111">T</text>
<text transform="translate(296.50,149.90) scale(1,1.09)" font-size="12.8" text-anchor="middle" font-weight="normal" fill="#111">S</text>
<text transform="translate(323.30,149.90) scale(1,1.09)" font-size="12.8" text-anchor="middle" font-weight="normal" fill="#111">T</text>
<text transform="translate(254.50,165.30) scale(1,1.09)" font-size="12.8" text-anchor="middle" font-weight="normal" fill="#111">WT</text>
<text transform="translate(310.00,165.30) scale(1,1.09)" font-size="12.8" text-anchor="middle" font-weight="normal" fill="#111">KO</text>
<polyline points="229.90,164.80 229.90,169.60 280.30,169.60 280.30,164.80" fill="none" stroke="#2a2a2a" stroke-width="1.45"/>
<polyline points="282.20,164.80 282.20,169.60 332.80,169.60 332.80,164.80" fill="none" stroke="#2a2a2a" stroke-width="1.45"/>
<polyline points="241.30,63.50 241.30,32.30 269.00,32.30 269.00,39.50" fill="none" stroke="#151515" stroke-width="1.25"/>
<polyline points="270.80,39.50 270.80,32.30 324.30,32.30 324.30,45.00" fill="none" stroke="#151515" stroke-width="1.25"/>
<text x="256.70" y="34.40" font-size="15.5" text-anchor="middle" font-weight="normal" fill="#111">*</text>
<text x="297.70" y="34.40" font-size="15.5" text-anchor="middle" font-weight="normal" fill="#111">*</text>
<line x1="269.90" y1="32.90" x2="269.90" y2="39.60" stroke="#555" stroke-width="3.0" stroke-linecap="butt"/>
<text x="359.80" y="13.50" font-size="18.3" text-anchor="start" font-weight="bold" fill="#000">c</text>
<line x1="419.55" y1="71.70" x2="419.55" y2="79.30" stroke="#3a3a3a" stroke-width="1.2" stroke-linecap="butt"/>
<line x1="415.55" y1="71.70" x2="423.55" y2="71.70" stroke="#3a3a3a" stroke-width="1.25" stroke-linecap="butt"/>
<rect x="411.20" y="78.30" width="16.70" height="56.40" fill="#1c1c1c"/>
<line x1="445.50" y1="48.70" x2="445.50" y2="64.30" stroke="#3a3a3a" stroke-width="1.2" stroke-linecap="butt"/>
<line x1="441.50" y1="48.70" x2="449.50" y2="48.70" stroke="#3a3a3a" stroke-width="1.25" stroke-linecap="butt"/>
<rect x="437.00" y="63.30" width="17.00" height="71.40" fill="#1c1c1c"/>
<line x1="472.85" y1="71.00" x2="472.85" y2="80.30" stroke="#3a3a3a" stroke-width="1.2" stroke-linecap="butt"/>
<line x1="468.85" y1="71.00" x2="476.85" y2="71.00" stroke="#3a3a3a" stroke-width="1.25" stroke-linecap="butt"/>
<rect x="464.40" y="79.30" width="16.90" height="55.40" fill="#1c1c1c"/>
<line x1="498.95" y1="65.70" x2="498.95" y2="75.30" stroke="#3a3a3a" stroke-width="1.2" stroke-linecap="butt"/>
<line x1="494.95" y1="65.70" x2="502.95" y2="65.70" stroke="#3a3a3a" stroke-width="1.25" stroke-linecap="butt"/>
<rect x="490.30" y="74.30" width="17.30" height="60.40" fill="#1c1c1c"/>
<line x1="407.20" y1="15.00" x2="407.20" y2="135.35" stroke="#141414" stroke-width="1.3" stroke-linecap="butt"/>
<line x1="406.55" y1="134.70" x2="509.30" y2="134.70" stroke="#141414" stroke-width="1.3" stroke-linecap="butt"/>
<line x1="406.00" y1="22.00" x2="407.20" y2="22.00" stroke="#141414" stroke-width="1" stroke-linecap="butt"/>
<text x="401.20" y="26.30" font-size="13.4" text-anchor="end" font-weight="normal" fill="#111">2.0</text>
<line x1="406.00" y1="50.00" x2="407.20" y2="50.00" stroke="#141414" stroke-width="1" stroke-linecap="butt"/>
<text x="401.20" y="54.30" font-size="13.4" text-anchor="end" font-weight="normal" fill="#111">1.5</text>
<line x1="406.00" y1="78.00" x2="407.20" y2="78.00" stroke="#141414" stroke-width="1" stroke-linecap="butt"/>
<text x="401.20" y="82.30" font-size="13.4" text-anchor="end" font-weight="normal" fill="#111">1.0</text>
<line x1="406.00" y1="106.00" x2="407.20" y2="106.00" stroke="#141414" stroke-width="1" stroke-linecap="butt"/>
<text x="401.20" y="110.30" font-size="13.4" text-anchor="end" font-weight="normal" fill="#111">0.5</text>
<text transform="translate(371.50,75.80) rotate(-90)" font-size="13.3" text-anchor="middle" fill="#111">Myocyte size</text>
<text transform="translate(417.80,149.90) scale(1,1.09)" font-size="12.8" text-anchor="middle" font-weight="normal" fill="#111">S</text>
<text transform="translate(445.00,149.90) scale(1,1.09)" font-size="12.8" text-anchor="middle" font-weight="normal" fill="#111">T</text>
<text transform="translate(471.70,149.90) scale(1,1.09)" font-size="12.8" text-anchor="middle" font-weight="normal" fill="#111">S</text>
<text transform="translate(498.70,149.90) scale(1,1.09)" font-size="12.8" text-anchor="middle" font-weight="normal" fill="#111">T</text>
<text transform="translate(430.00,165.30) scale(1,1.09)" font-size="12.8" text-anchor="middle" font-weight="normal" fill="#111">WT</text>
<text transform="translate(485.70,165.30) scale(1,1.09)" font-size="12.8" text-anchor="middle" font-weight="normal" fill="#111">KO</text>
<polyline points="406.30,165.20 406.30,170.00 458.30,170.00 458.30,165.20" fill="none" stroke="#2a2a2a" stroke-width="1.45"/>
<polyline points="459.30,165.20 459.30,170.00 510.00,170.00 510.00,165.20" fill="none" stroke="#2a2a2a" stroke-width="1.45"/>
<polyline points="418.00,68.30 418.00,38.30 445.70,38.30 445.70,47.00" fill="none" stroke="#151515" stroke-width="1.25"/>
<polyline points="447.50,47.00 447.50,38.30 499.10,38.30 499.10,61.30" fill="none" stroke="#151515" stroke-width="1.25"/>
<text x="432.80" y="40.40" font-size="15.5" text-anchor="middle" font-weight="normal" fill="#111">*</text>
<text x="473.00" y="40.40" font-size="15.5" text-anchor="middle" font-weight="normal" fill="#111">*</text>
<text x="532.80" y="13.30" font-size="18.3" text-anchor="start" font-weight="bold" fill="#000">d</text>
<line x1="588.20" y1="103.70" x2="588.20" y2="111.00" stroke="#3a3a3a" stroke-width="1.2" stroke-linecap="butt"/>
<line x1="582.70" y1="103.70" x2="593.70" y2="103.70" stroke="#3a3a3a" stroke-width="1.25" stroke-linecap="butt"/>
<rect x="578.00" y="110.00" width="20.40" height="24.70" fill="#1c1c1c"/>
<line x1="615.25" y1="40.70" x2="615.25" y2="50.30" stroke="#3a3a3a" stroke-width="1.2" stroke-linecap="butt"/>
<line x1="609.75" y1="40.70" x2="620.75" y2="40.70" stroke="#3a3a3a" stroke-width="1.25" stroke-linecap="butt"/>
<rect x="605.30" y="49.30" width="19.90" height="85.40" fill="#1c1c1c"/>
<line x1="643.10" y1="103.70" x2="643.10" y2="107.70" stroke="#3a3a3a" stroke-width="1.2" stroke-linecap="butt"/>
<line x1="637.60" y1="103.70" x2="648.60" y2="103.70" stroke="#3a3a3a" stroke-width="1.25" stroke-linecap="butt"/>
<rect x="633.00" y="106.70" width="20.20" height="28.00" fill="#1c1c1c"/>
<line x1="670.10" y1="69.30" x2="670.10" y2="81.70" stroke="#3a3a3a" stroke-width="1.2" stroke-linecap="butt"/>
<line x1="664.60" y1="69.30" x2="675.60" y2="69.30" stroke="#3a3a3a" stroke-width="1.25" stroke-linecap="butt"/>
<rect x="660.00" y="80.70" width="20.20" height="54.00" fill="#1c1c1c"/>
<line x1="573.30" y1="15.00" x2="573.30" y2="135.35" stroke="#141414" stroke-width="1.3" stroke-linecap="butt"/>
<line x1="572.65" y1="134.70" x2="685.00" y2="134.70" stroke="#141414" stroke-width="1.3" stroke-linecap="butt"/>
<line x1="572.10" y1="21.70" x2="573.30" y2="21.70" stroke="#141414" stroke-width="1" stroke-linecap="butt"/>
<text x="567.80" y="25.67" font-size="12.5" text-anchor="end" font-weight="normal" fill="#111">12</text>
<line x1="572.10" y1="40.50" x2="573.30" y2="40.50" stroke="#141414" stroke-width="1" stroke-linecap="butt"/>
<text x="567.80" y="44.48" font-size="12.5" text-anchor="end" font-weight="normal" fill="#111">10</text>
<line x1="572.10" y1="59.50" x2="573.30" y2="59.50" stroke="#141414" stroke-width="1" stroke-linecap="butt"/>
<text x="567.80" y="63.48" font-size="12.5" text-anchor="end" font-weight="normal" fill="#111">8</text>
<line x1="572.10" y1="78.50" x2="573.30" y2="78.50" stroke="#141414" stroke-width="1" stroke-linecap="butt"/>
<text x="567.80" y="82.47" font-size="12.5" text-anchor="end" font-weight="normal" fill="#111">6</text>
<line x1="572.10" y1="97.30" x2="573.30" y2="97.30" stroke="#141414" stroke-width="1" stroke-linecap="butt"/>
<text x="567.80" y="101.27" font-size="12.5" text-anchor="end" font-weight="normal" fill="#111">4</text>
<line x1="572.10" y1="116.30" x2="573.30" y2="116.30" stroke="#141414" stroke-width="1" stroke-linecap="butt"/>
<text x="567.80" y="120.27" font-size="12.5" text-anchor="end" font-weight="normal" fill="#111">2</text>
<text transform="translate(544.50,75.30) rotate(-90)" font-size="13.1" text-anchor="middle" fill="#111">% Fibrotic area</text>
<text transform="translate(588.30,149.90) scale(1,1.09)" font-size="12.8" text-anchor="middle" font-weight="normal" fill="#111">S</text>
<text transform="translate(615.50,149.90) scale(1,1.09)" font-size="12.8" text-anchor="middle" font-weight="normal" fill="#111">T</text>
<text transform="translate(642.30,149.90) scale(1,1.09)" font-size="12.8" text-anchor="middle" font-weight="normal" fill="#111">S</text>
<text transform="translate(669.70,149.90) scale(1,1.09)" font-size="12.8" text-anchor="middle" font-weight="normal" fill="#111">T</text>
<text transform="translate(601.30,165.30) scale(1,1.09)" font-size="12.8" text-anchor="middle" font-weight="normal" fill="#111">WT</text>
<text transform="translate(656.30,165.30) scale(1,1.09)" font-size="12.8" text-anchor="middle" font-weight="normal" fill="#111">KO</text>
<polyline points="577.30,165.20 577.30,170.00 629.00,170.00 629.00,165.20" fill="none" stroke="#2a2a2a" stroke-width="1.45"/>
<polyline points="630.30,165.20 630.30,170.00 680.70,170.00 680.70,165.20" fill="none" stroke="#2a2a2a" stroke-width="1.45"/>
<polyline points="588.70,97.00 588.70,22.70 616.00,22.70 616.00,30.00" fill="none" stroke="#151515" stroke-width="1.25"/>
<polyline points="617.80,30.00 617.80,22.70 669.00,22.70 669.00,45.00" fill="none" stroke="#151515" stroke-width="1.25"/>
<text x="603.00" y="25.40" font-size="15.5" text-anchor="middle" font-weight="normal" fill="#111">*</text>
<text x="642.30" y="25.40" font-size="15.5" text-anchor="middle" font-weight="normal" fill="#111">*</text>
<text x="615.30" y="42.90" font-size="15.5" text-anchor="middle" font-weight="normal" fill="#111">*</text>
<line x1="617.20" y1="23.30" x2="617.20" y2="30.20" stroke="#555" stroke-width="3.0" stroke-linecap="butt"/>
<text x="0.90" y="207.00" font-size="18.3" text-anchor="start" font-weight="bold" fill="#000">e</text>
<line x1="49.00" y1="241.30" x2="49.00" y2="244.70" stroke="#3a3a3a" stroke-width="1.2" stroke-linecap="butt"/>
<line x1="44.50" y1="241.30" x2="53.50" y2="241.30" stroke="#3a3a3a" stroke-width="1.25" stroke-linecap="butt"/>
<rect x="40.00" y="243.70" width="18.00" height="85.40" fill="#1c1c1c"/>
<line x1="75.70" y1="225.70" x2="75.70" y2="229.30" stroke="#3a3a3a" stroke-width="1.2" stroke-linecap="butt"/>
<line x1="71.20" y1="225.70" x2="80.20" y2="225.70" stroke="#3a3a3a" stroke-width="1.25" stroke-linecap="butt"/>
<rect x="66.70" y="228.30" width="18.00" height="100.80" fill="#1c1c1c"/>
<line x1="102.30" y1="241.30" x2="102.30" y2="244.70" stroke="#3a3a3a" stroke-width="1.2" stroke-linecap="butt"/>
<line x1="97.80" y1="241.30" x2="106.80" y2="241.30" stroke="#3a3a3a" stroke-width="1.25" stroke-linecap="butt"/>
<rect x="93.30" y="243.70" width="18.00" height="85.40" fill="#1c1c1c"/>
<line x1="129.00" y1="241.30" x2="129.00" y2="245.00" stroke="#3a3a3a" stroke-width="1.2" stroke-linecap="butt"/>
<line x1="124.50" y1="241.30" x2="133.50" y2="241.30" stroke="#3a3a3a" stroke-width="1.25" stroke-linecap="butt"/>
<rect x="120.00" y="244.00" width="18.00" height="85.10" fill="#1c1c1c"/>
<line x1="35.00" y1="207.00" x2="35.00" y2="329.60" stroke="#666" stroke-width="1" stroke-linecap="butt"/>
<line x1="32.50" y1="329.10" x2="143.00" y2="329.10" stroke="#777" stroke-width="1.4" stroke-linecap="butt"/>
<line x1="32.50" y1="207.30" x2="35.00" y2="207.30" stroke="#666" stroke-width="1" stroke-linecap="butt"/>
<text x="28.00" y="211.78" font-size="12.5" text-anchor="end" font-weight="normal" fill="#111">5</text>
<line x1="32.50" y1="231.50" x2="35.00" y2="231.50" stroke="#666" stroke-width="1" stroke-linecap="butt"/>
<text x="28.00" y="235.97" font-size="12.5" text-anchor="end" font-weight="normal" fill="#111">4</text>
<line x1="32.50" y1="255.70" x2="35.00" y2="255.70" stroke="#666" stroke-width="1" stroke-linecap="butt"/>
<text x="28.00" y="260.18" font-size="12.5" text-anchor="end" font-weight="normal" fill="#111">3</text>
<line x1="32.50" y1="280.00" x2="35.00" y2="280.00" stroke="#666" stroke-width="1" stroke-linecap="butt"/>
<text x="28.00" y="284.48" font-size="12.5" text-anchor="end" font-weight="normal" fill="#111">2</text>
<line x1="32.50" y1="304.30" x2="35.00" y2="304.30" stroke="#666" stroke-width="1" stroke-linecap="butt"/>
<text x="28.00" y="308.78" font-size="12.5" text-anchor="end" font-weight="normal" fill="#111">1</text>
<text transform="translate(11.50,268.00) rotate(-90)" font-size="13.3" text-anchor="middle" fill="#111">LVEDD mm</text>
<text transform="translate(49.00,344.70) scale(1,1.09)" font-size="12.8" text-anchor="middle" font-weight="normal" fill="#111">S</text>
<text transform="translate(75.70,344.70) scale(1,1.09)" font-size="12.8" text-anchor="middle" font-weight="normal" fill="#111">T</text>
<text transform="translate(102.30,344.70) scale(1,1.09)" font-size="12.8" text-anchor="middle" font-weight="normal" fill="#111">S</text>
<text transform="translate(129.00,344.70) scale(1,1.09)" font-size="12.8" text-anchor="middle" font-weight="normal" fill="#111">T</text>
<text transform="translate(61.70,360.30) scale(1,1.09)" font-size="12.8" text-anchor="middle" font-weight="normal" fill="#111">WT</text>
<text transform="translate(115.70,360.30) scale(1,1.09)" font-size="12.8" text-anchor="middle" font-weight="normal" fill="#111">KO</text>
<polyline points="35.00,360.50 35.00,365.30 86.00,365.30 86.00,360.50" fill="none" stroke="#2a2a2a" stroke-width="1.45"/>
<polyline points="87.30,360.50 87.30,365.30 138.30,365.30 138.30,360.50" fill="none" stroke="#2a2a2a" stroke-width="1.45"/>
<polyline points="49.00,239.70 49.00,213.00 75.70,213.00 75.70,220.30" fill="none" stroke="#151515" stroke-width="1.25"/>
<polyline points="77.50,220.30 77.50,213.00 128.70,213.00 128.70,238.70" fill="none" stroke="#151515" stroke-width="1.25"/>
<text x="63.30" y="215.40" font-size="15.5" text-anchor="middle" font-weight="normal" fill="#111">*</text>
<text x="102.70" y="215.40" font-size="15.5" text-anchor="middle" font-weight="normal" fill="#111">*</text>
<text x="192.00" y="206.50" font-size="18.3" text-anchor="start" font-weight="bold" fill="#000">f</text>
<line x1="242.15" y1="274.70" x2="242.15" y2="278.00" stroke="#3a3a3a" stroke-width="1.2" stroke-linecap="butt"/>
<line x1="237.65" y1="274.70" x2="246.65" y2="274.70" stroke="#3a3a3a" stroke-width="1.25" stroke-linecap="butt"/>
<rect x="233.00" y="277.00" width="18.30" height="52.10" fill="#1c1c1c"/>
<line x1="269.00" y1="234.30" x2="269.00" y2="239.70" stroke="#3a3a3a" stroke-width="1.2" stroke-linecap="butt"/>
<line x1="264.50" y1="234.30" x2="273.50" y2="234.30" stroke="#3a3a3a" stroke-width="1.25" stroke-linecap="butt"/>
<rect x="260.00" y="238.70" width="18.00" height="90.40" fill="#1c1c1c"/>
<line x1="296.00" y1="279.70" x2="296.00" y2="282.00" stroke="#3a3a3a" stroke-width="1.2" stroke-linecap="butt"/>
<line x1="291.50" y1="279.70" x2="300.50" y2="279.70" stroke="#3a3a3a" stroke-width="1.25" stroke-linecap="butt"/>
<rect x="287.00" y="281.00" width="18.00" height="48.10" fill="#1c1c1c"/>
<line x1="322.85" y1="266.30" x2="322.85" y2="270.30" stroke="#3a3a3a" stroke-width="1.2" stroke-linecap="butt"/>
<line x1="318.35" y1="266.30" x2="327.35" y2="266.30" stroke="#3a3a3a" stroke-width="1.25" stroke-linecap="butt"/>
<rect x="313.70" y="269.30" width="18.30" height="59.80" fill="#1c1c1c"/>
<line x1="228.70" y1="207.00" x2="228.70" y2="329.60" stroke="#4a4a4a" stroke-width="1" stroke-linecap="butt"/>
<line x1="226.70" y1="329.10" x2="336.00" y2="329.10" stroke="#777" stroke-width="1.4" stroke-linecap="butt"/>
<line x1="226.70" y1="207.30" x2="228.70" y2="207.30" stroke="#4a4a4a" stroke-width="1" stroke-linecap="butt"/>
<text x="221.90" y="211.18" font-size="12.5" text-anchor="end" font-weight="normal" fill="#111">4</text>
<line x1="226.70" y1="237.30" x2="228.70" y2="237.30" stroke="#4a4a4a" stroke-width="1" stroke-linecap="butt"/>
<text x="221.90" y="241.18" font-size="12.5" text-anchor="end" font-weight="normal" fill="#111">3</text>
<line x1="226.70" y1="267.70" x2="228.70" y2="267.70" stroke="#4a4a4a" stroke-width="1" stroke-linecap="butt"/>
<text x="221.90" y="271.57" font-size="12.5" text-anchor="end" font-weight="normal" fill="#111">2</text>
<line x1="226.70" y1="298.00" x2="228.70" y2="298.00" stroke="#4a4a4a" stroke-width="1" stroke-linecap="butt"/>
<text x="221.90" y="301.88" font-size="12.5" text-anchor="end" font-weight="normal" fill="#111">1</text>
<text transform="translate(205.50,268.00) rotate(-90)" font-size="13.3" text-anchor="middle" fill="#111">LVESD</text>
<text transform="translate(242.00,344.70) scale(1,1.09)" font-size="12.8" text-anchor="middle" font-weight="normal" fill="#111">S</text>
<text transform="translate(268.70,344.70) scale(1,1.09)" font-size="12.8" text-anchor="middle" font-weight="normal" fill="#111">T</text>
<text transform="translate(296.00,344.70) scale(1,1.09)" font-size="12.8" text-anchor="middle" font-weight="normal" fill="#111">S</text>
<text transform="translate(323.00,344.70) scale(1,1.09)" font-size="12.8" text-anchor="middle" font-weight="normal" fill="#111">T</text>
<text transform="translate(254.30,360.30) scale(1,1.09)" font-size="12.8" text-anchor="middle" font-weight="normal" fill="#111">WT</text>
<text transform="translate(309.30,360.30) scale(1,1.09)" font-size="12.8" text-anchor="middle" font-weight="normal" fill="#111">KO</text>
<polyline points="230.70,360.50 230.70,365.30 282.00,365.30 282.00,360.50" fill="none" stroke="#2a2a2a" stroke-width="1.45"/>
<polyline points="283.30,360.50 283.30,365.30 334.30,365.30 334.30,360.50" fill="none" stroke="#2a2a2a" stroke-width="1.45"/>
<polyline points="241.30,272.00 241.30,222.00 268.40,222.00 268.40,230.30" fill="none" stroke="#151515" stroke-width="1.25"/>
<polyline points="270.20,230.30 270.20,222.00 321.00,222.00 321.00,263.30" fill="none" stroke="#151515" stroke-width="1.25"/>
<text x="256.00" y="224.40" font-size="15.5" text-anchor="middle" font-weight="normal" fill="#111">*</text>
<text x="296.00" y="224.40" font-size="15.5" text-anchor="middle" font-weight="normal" fill="#111">*</text>
<text x="365.00" y="205.50" font-size="19" text-anchor="start" font-weight="bold" fill="#000">g</text>
<line x1="419.50" y1="216.30" x2="419.50" y2="224.00" stroke="#3a3a3a" stroke-width="1.2" stroke-linecap="butt"/>
<line x1="415.00" y1="216.30" x2="424.00" y2="216.30" stroke="#3a3a3a" stroke-width="1.25" stroke-linecap="butt"/>
<rect x="410.10" y="223.00" width="18.80" height="106.10" fill="#1c1c1c"/>
<line x1="446.15" y1="266.30" x2="446.15" y2="271.30" stroke="#3a3a3a" stroke-width="1.2" stroke-linecap="butt"/>
<line x1="441.65" y1="266.30" x2="450.65" y2="266.30" stroke="#3a3a3a" stroke-width="1.25" stroke-linecap="butt"/>
<rect x="437.30" y="270.30" width="17.70" height="58.80" fill="#1c1c1c"/>
<line x1="472.85" y1="221.70" x2="472.85" y2="225.00" stroke="#3a3a3a" stroke-width="1.2" stroke-linecap="butt"/>
<line x1="468.35" y1="221.70" x2="477.35" y2="221.70" stroke="#3a3a3a" stroke-width="1.25" stroke-linecap="butt"/>
<rect x="464.00" y="224.00" width="17.70" height="105.10" fill="#1c1c1c"/>
<line x1="499.50" y1="235.30" x2="499.50" y2="239.70" stroke="#3a3a3a" stroke-width="1.2" stroke-linecap="butt"/>
<line x1="495.00" y1="235.30" x2="504.00" y2="235.30" stroke="#3a3a3a" stroke-width="1.25" stroke-linecap="butt"/>
<rect x="490.70" y="238.70" width="17.60" height="90.40" fill="#1c1c1c"/>
<line x1="406.50" y1="207.00" x2="406.50" y2="329.60" stroke="#666" stroke-width="1" stroke-linecap="butt"/>
<line x1="404.50" y1="329.10" x2="510.00" y2="329.10" stroke="#808080" stroke-width="1.4" stroke-linecap="butt"/>
<line x1="404.50" y1="207.30" x2="406.50" y2="207.30" stroke="#666" stroke-width="1" stroke-linecap="butt"/>
<text x="400.10" y="212.28" font-size="13.9" text-anchor="end" font-weight="normal" fill="#111">60</text>
<line x1="404.50" y1="247.70" x2="406.50" y2="247.70" stroke="#666" stroke-width="1" stroke-linecap="butt"/>
<text x="400.10" y="252.68" font-size="13.9" text-anchor="end" font-weight="normal" fill="#111">40</text>
<line x1="404.50" y1="288.00" x2="406.50" y2="288.00" stroke="#666" stroke-width="1" stroke-linecap="butt"/>
<text x="400.10" y="292.98" font-size="13.9" text-anchor="end" font-weight="normal" fill="#111">20</text>
<text transform="translate(376.50,268.00) rotate(-90)" font-size="13.9" text-anchor="middle" fill="#111">FS %</text>
<text transform="translate(419.00,344.70) scale(1,1.09)" font-size="12.8" text-anchor="middle" font-weight="normal" fill="#111">S</text>
<text transform="translate(445.70,344.70) scale(1,1.09)" font-size="12.8" text-anchor="middle" font-weight="normal" fill="#111">T</text>
<text transform="translate(472.30,344.70) scale(1,1.09)" font-size="12.8" text-anchor="middle" font-weight="normal" fill="#111">S</text>
<text transform="translate(499.00,344.70) scale(1,1.09)" font-size="12.8" text-anchor="middle" font-weight="normal" fill="#111">T</text>
<text transform="translate(430.70,360.30) scale(1,1.09)" font-size="12.8" text-anchor="middle" font-weight="normal" fill="#111">WT</text>
<text transform="translate(486.30,360.30) scale(1,1.09)" font-size="12.8" text-anchor="middle" font-weight="normal" fill="#111">KO</text>
<polyline points="407.30,360.50 407.30,365.30 458.70,365.30 458.70,360.50" fill="none" stroke="#2a2a2a" stroke-width="1.45"/>
<polyline points="460.00,360.50 460.00,365.30 510.70,365.30 510.70,360.50" fill="none" stroke="#2a2a2a" stroke-width="1.45"/>
<polyline points="418.70,215.30 418.70,207.90 446.40,207.90 446.40,250.30" fill="none" stroke="#151515" stroke-width="1.25"/>
<polyline points="448.20,250.30 448.20,207.90 499.00,207.90 499.00,220.30" fill="none" stroke="#151515" stroke-width="1.25"/>
<text x="433.30" y="210.10" font-size="15.5" text-anchor="middle" font-weight="normal" fill="#111">*</text>
<text x="472.70" y="210.10" font-size="15.5" text-anchor="middle" font-weight="normal" fill="#111">*</text>
<line x1="419.30" y1="241.50" x2="419.30" y2="249.50" stroke="#000" stroke-width="1.3" stroke-linecap="butt"/>
<line x1="591.30" y1="214.30" x2="591.30" y2="218.30" stroke="#222" stroke-width="1.2" stroke-linecap="butt"/>
<line x1="588.55" y1="214.30" x2="594.05" y2="214.30" stroke="#222" stroke-width="1.25" stroke-linecap="butt"/>
<rect x="581.70" y="217.30" width="19.20" height="111.80" fill="#000"/>
<line x1="617.00" y1="218.30" x2="617.00" y2="222.00" stroke="#222" stroke-width="1.2" stroke-linecap="butt"/>
<line x1="614.25" y1="218.30" x2="619.75" y2="218.30" stroke="#222" stroke-width="1.25" stroke-linecap="butt"/>
<rect x="607.30" y="221.00" width="19.40" height="108.10" fill="#000"/>
<line x1="643.15" y1="219.00" x2="643.15" y2="226.70" stroke="#222" stroke-width="1.2" stroke-linecap="butt"/>
<line x1="640.40" y1="219.00" x2="645.90" y2="219.00" stroke="#222" stroke-width="1.25" stroke-linecap="butt"/>
<rect x="634.00" y="225.70" width="18.30" height="103.40" fill="#000"/>
<line x1="668.65" y1="220.30" x2="668.65" y2="224.70" stroke="#222" stroke-width="1.2" stroke-linecap="butt"/>
<line x1="665.90" y1="220.30" x2="671.40" y2="220.30" stroke="#222" stroke-width="1.25" stroke-linecap="butt"/>
<rect x="659.00" y="223.70" width="19.30" height="105.40" fill="#000"/>
<line x1="576.30" y1="207.00" x2="576.30" y2="329.60" stroke="#666" stroke-width="1" stroke-linecap="butt"/>
<line x1="574.30" y1="329.10" x2="682.00" y2="329.10" stroke="#808080" stroke-width="1.5" stroke-linecap="butt"/>
<line x1="574.30" y1="207.30" x2="576.30" y2="207.30" stroke="#666" stroke-width="1" stroke-linecap="butt"/>
<text x="570.00" y="212.28" font-size="13.9" text-anchor="end" font-weight="normal" fill="#111">900</text>
<line x1="574.30" y1="227.50" x2="576.30" y2="227.50" stroke="#666" stroke-width="1" stroke-linecap="butt"/>
<text x="570.00" y="232.48" font-size="13.9" text-anchor="end" font-weight="normal" fill="#111">750</text>
<line x1="574.30" y1="247.70" x2="576.30" y2="247.70" stroke="#666" stroke-width="1" stroke-linecap="butt"/>
<text x="570.00" y="252.68" font-size="13.9" text-anchor="end" font-weight="normal" fill="#111">600</text>
<line x1="574.30" y1="268.00" x2="576.30" y2="268.00" stroke="#666" stroke-width="1" stroke-linecap="butt"/>
<text x="570.00" y="272.98" font-size="13.9" text-anchor="end" font-weight="normal" fill="#111">450</text>
<line x1="574.30" y1="288.30" x2="576.30" y2="288.30" stroke="#666" stroke-width="1" stroke-linecap="butt"/>
<text x="570.00" y="293.28" font-size="13.9" text-anchor="end" font-weight="normal" fill="#111">300</text>
<line x1="574.30" y1="308.70" x2="576.30" y2="308.70" stroke="#666" stroke-width="1" stroke-linecap="butt"/>
<text x="570.00" y="313.68" font-size="13.9" text-anchor="end" font-weight="normal" fill="#111">150</text>
<text transform="translate(534.80,267.50) rotate(-90)" font-size="13.3" text-anchor="middle" fill="#111">HR (b/min)</text>
<text transform="translate(590.30,344.70) scale(1,1.09)" font-size="12.8" text-anchor="middle" font-weight="normal" fill="#111">S</text>
<text transform="translate(617.30,344.70) scale(1,1.09)" font-size="12.8" text-anchor="middle" font-weight="normal" fill="#111">T</text>
<text transform="translate(644.00,344.70) scale(1,1.09)" font-size="12.8" text-anchor="middle" font-weight="normal" fill="#111">S</text>
<text transform="translate(670.70,344.70) scale(1,1.09)" font-size="12.8" text-anchor="middle" font-weight="normal" fill="#111">T</text>
<text transform="translate(603.00,360.30) scale(1,1.09)" font-size="12.8" text-anchor="middle" font-weight="normal" fill="#111">WT</text>
<text transform="translate(657.30,360.30) scale(1,1.09)" font-size="12.8" text-anchor="middle" font-weight="normal" fill="#111">KO</text>
<polyline points="578.00,360.50 578.00,365.30 629.00,365.30 629.00,360.50" fill="none" stroke="#2a2a2a" stroke-width="1.45"/>
<polyline points="630.30,360.50 630.30,365.30 682.00,365.30 682.00,360.50" fill="none" stroke="#2a2a2a" stroke-width="1.45"/>
<text x="0.80" y="399.70" font-size="19" text-anchor="start" font-weight="bold" fill="#000">h</text>
<line x1="88.70" y1="537.90" x2="88.70" y2="539.10" stroke="#0a0a0a" stroke-width="2.3" stroke-linecap="butt"/>
<line x1="83.50" y1="537.90" x2="93.90" y2="537.90" stroke="#0a0a0a" stroke-width="2.3" stroke-linecap="butt"/>
<rect x="80.70" y="538.10" width="15.40" height="18.70" fill="#888a88"/>
<line x1="111.75" y1="405.20" x2="111.75" y2="419.40" stroke="#0a0a0a" stroke-width="2.3" stroke-linecap="butt"/>
<line x1="106.55" y1="405.20" x2="116.95" y2="405.20" stroke="#0a0a0a" stroke-width="2.3" stroke-linecap="butt"/>
<rect x="104.10" y="418.40" width="14.70" height="138.40" fill="#dc6049"/>
<line x1="134.35" y1="548.40" x2="134.35" y2="550.40" stroke="#0a0a0a" stroke-width="2.3" stroke-linecap="butt"/>
<line x1="129.15" y1="548.40" x2="139.55" y2="548.40" stroke="#0a0a0a" stroke-width="2.3" stroke-linecap="butt"/>
<rect x="126.10" y="549.40" width="15.90" height="7.40" fill="#1f8a58"/>
<line x1="157.75" y1="483.20" x2="157.75" y2="506.00" stroke="#0a0a0a" stroke-width="2.3" stroke-linecap="butt"/>
<line x1="152.55" y1="483.20" x2="162.95" y2="483.20" stroke="#0a0a0a" stroke-width="2.3" stroke-linecap="butt"/>
<rect x="150.00" y="505.00" width="14.90" height="51.80" fill="#7e4c6e"/>
<line x1="196.75" y1="537.40" x2="196.75" y2="539.10" stroke="#0a0a0a" stroke-width="2.3" stroke-linecap="butt"/>
<line x1="191.55" y1="537.40" x2="201.95" y2="537.40" stroke="#0a0a0a" stroke-width="2.3" stroke-linecap="butt"/>
<rect x="189.10" y="538.10" width="14.70" height="18.70" fill="#888a88"/>
<line x1="219.45" y1="515.50" x2="219.45" y2="522.00" stroke="#0a0a0a" stroke-width="2.3" stroke-linecap="butt"/>
<line x1="214.25" y1="515.50" x2="224.65" y2="515.50" stroke="#0a0a0a" stroke-width="2.3" stroke-linecap="butt"/>
<rect x="211.50" y="521.00" width="15.30" height="35.80" fill="#dc6049"/>
<line x1="242.85" y1="549.30" x2="242.85" y2="551.40" stroke="#0a0a0a" stroke-width="2.3" stroke-linecap="butt"/>
<line x1="237.65" y1="549.30" x2="248.05" y2="549.30" stroke="#0a0a0a" stroke-width="2.3" stroke-linecap="butt"/>
<rect x="234.90" y="550.40" width="15.30" height="6.40" fill="#1f8a58"/>
<line x1="265.65" y1="544.50" x2="265.65" y2="547.20" stroke="#0a0a0a" stroke-width="2.3" stroke-linecap="butt"/>
<line x1="260.45" y1="544.50" x2="270.85" y2="544.50" stroke="#0a0a0a" stroke-width="2.3" stroke-linecap="butt"/>
<rect x="258.00" y="546.20" width="14.70" height="10.60" fill="#7e4c6e"/>
<line x1="305.05" y1="533.00" x2="305.05" y2="539.10" stroke="#0a0a0a" stroke-width="2.3" stroke-linecap="butt"/>
<line x1="299.85" y1="533.00" x2="310.25" y2="533.00" stroke="#0a0a0a" stroke-width="2.3" stroke-linecap="butt"/>
<rect x="297.20" y="538.10" width="15.10" height="18.70" fill="#888a88"/>
<line x1="327.80" y1="457.00" x2="327.80" y2="466.30" stroke="#0a0a0a" stroke-width="2.3" stroke-linecap="butt"/>
<line x1="322.60" y1="457.00" x2="333.00" y2="457.00" stroke="#0a0a0a" stroke-width="2.3" stroke-linecap="butt"/>
<rect x="320.00" y="465.30" width="15.00" height="91.50" fill="#dc6049"/>
<line x1="350.85" y1="524.00" x2="350.85" y2="529.00" stroke="#0a0a0a" stroke-width="2.3" stroke-linecap="butt"/>
<line x1="345.65" y1="524.00" x2="356.05" y2="524.00" stroke="#0a0a0a" stroke-width="2.3" stroke-linecap="butt"/>
<rect x="343.10" y="528.00" width="14.90" height="28.80" fill="#1f8a58"/>
<line x1="374.30" y1="496.00" x2="374.30" y2="501.50" stroke="#0a0a0a" stroke-width="2.3" stroke-linecap="butt"/>
<line x1="369.10" y1="496.00" x2="379.50" y2="496.00" stroke="#0a0a0a" stroke-width="2.3" stroke-linecap="butt"/>
<rect x="366.50" y="500.50" width="15.00" height="56.30" fill="#7e4c6e"/>
<line x1="413.05" y1="529.00" x2="413.05" y2="539.10" stroke="#0a0a0a" stroke-width="2.3" stroke-linecap="butt"/>
<line x1="407.85" y1="529.00" x2="418.25" y2="529.00" stroke="#0a0a0a" stroke-width="2.3" stroke-linecap="butt"/>
<rect x="405.20" y="538.10" width="15.10" height="18.70" fill="#888a88"/>
<line x1="436.05" y1="498.50" x2="436.05" y2="511.30" stroke="#0a0a0a" stroke-width="2.3" stroke-linecap="butt"/>
<line x1="430.85" y1="498.50" x2="441.25" y2="498.50" stroke="#0a0a0a" stroke-width="2.3" stroke-linecap="butt"/>
<rect x="428.20" y="510.30" width="15.10" height="46.50" fill="#dc6049"/>
<line x1="459.25" y1="546.00" x2="459.25" y2="550.40" stroke="#0a0a0a" stroke-width="2.3" stroke-linecap="butt"/>
<line x1="454.05" y1="546.00" x2="464.45" y2="546.00" stroke="#0a0a0a" stroke-width="2.3" stroke-linecap="butt"/>
<rect x="451.30" y="549.40" width="15.30" height="7.40" fill="#1f8a58"/>
<line x1="482.05" y1="516.00" x2="482.05" y2="526.80" stroke="#0a0a0a" stroke-width="2.3" stroke-linecap="butt"/>
<line x1="476.85" y1="516.00" x2="487.25" y2="516.00" stroke="#0a0a0a" stroke-width="2.3" stroke-linecap="butt"/>
<rect x="474.20" y="525.80" width="15.10" height="31.00" fill="#7e4c6e"/>
<line x1="520.80" y1="531.00" x2="520.80" y2="539.10" stroke="#0a0a0a" stroke-width="2.3" stroke-linecap="butt"/>
<line x1="515.60" y1="531.00" x2="526.00" y2="531.00" stroke="#0a0a0a" stroke-width="2.3" stroke-linecap="butt"/>
<rect x="513.00" y="538.10" width="15.00" height="18.70" fill="#888a88"/>
<line x1="544.20" y1="496.00" x2="544.20" y2="501.80" stroke="#0a0a0a" stroke-width="2.3" stroke-linecap="butt"/>
<line x1="539.00" y1="496.00" x2="549.40" y2="496.00" stroke="#0a0a0a" stroke-width="2.3" stroke-linecap="butt"/>
<rect x="536.30" y="500.80" width="15.20" height="56.00" fill="#dc6049"/>
<line x1="567.05" y1="532.00" x2="567.05" y2="535.30" stroke="#0a0a0a" stroke-width="2.3" stroke-linecap="butt"/>
<line x1="561.85" y1="532.00" x2="572.25" y2="532.00" stroke="#0a0a0a" stroke-width="2.3" stroke-linecap="butt"/>
<rect x="559.20" y="534.30" width="15.10" height="22.50" fill="#1f8a58"/>
<line x1="590.05" y1="527.00" x2="590.05" y2="530.30" stroke="#0a0a0a" stroke-width="2.3" stroke-linecap="butt"/>
<line x1="584.85" y1="527.00" x2="595.25" y2="527.00" stroke="#0a0a0a" stroke-width="2.3" stroke-linecap="butt"/>
<rect x="582.20" y="529.30" width="15.10" height="27.50" fill="#7e4c6e"/>
<rect x="102.00" y="437.60" width="19.00" height="5.10" fill="#fff"/>
<line x1="69.60" y1="397.50" x2="69.60" y2="437.60" stroke="#111" stroke-width="1.6" stroke-linecap="butt"/>
<line x1="69.60" y1="442.90" x2="69.60" y2="557.60" stroke="#111" stroke-width="1.6" stroke-linecap="butt"/>
<line x1="64.30" y1="556.80" x2="612.00" y2="556.80" stroke="#111" stroke-width="1.6" stroke-linecap="butt"/>
<line x1="64.30" y1="398.30" x2="69.60" y2="398.30" stroke="#111" stroke-width="1.6" stroke-linecap="butt"/>
<text x="59.80" y="403.00" font-size="13.5" text-anchor="end" font-weight="normal" fill="#111">50</text>
<line x1="64.30" y1="421.40" x2="69.60" y2="421.40" stroke="#111" stroke-width="1.6" stroke-linecap="butt"/>
<text x="59.80" y="426.10" font-size="13.5" text-anchor="end" font-weight="normal" fill="#111">30</text>
<line x1="64.30" y1="410.00" x2="69.60" y2="410.00" stroke="#111" stroke-width="1.6" stroke-linecap="butt"/>
<line x1="64.30" y1="433.10" x2="69.60" y2="433.10" stroke="#111" stroke-width="1.6" stroke-linecap="butt"/>
<line x1="64.30" y1="444.30" x2="69.60" y2="444.30" stroke="#111" stroke-width="1.6" stroke-linecap="butt"/>
<text x="59.80" y="449.00" font-size="13.5" text-anchor="end" font-weight="normal" fill="#111">6</text>
<line x1="64.30" y1="481.90" x2="69.60" y2="481.90" stroke="#111" stroke-width="1.6" stroke-linecap="butt"/>
<text x="59.80" y="486.60" font-size="13.5" text-anchor="end" font-weight="normal" fill="#111">4</text>
<line x1="64.30" y1="519.40" x2="69.60" y2="519.40" stroke="#111" stroke-width="1.6" stroke-linecap="butt"/>
<text x="59.80" y="524.10" font-size="13.5" text-anchor="end" font-weight="normal" fill="#111">2</text>
<line x1="64.30" y1="463.10" x2="69.60" y2="463.10" stroke="#111" stroke-width="1.6" stroke-linecap="butt"/>
<line x1="64.30" y1="500.60" x2="69.60" y2="500.60" stroke="#111" stroke-width="1.6" stroke-linecap="butt"/>
<line x1="64.30" y1="538.10" x2="69.60" y2="538.10" stroke="#111" stroke-width="1.6" stroke-linecap="butt"/>
<text transform="translate(34.80,477.20) rotate(-90)" font-size="13.2" text-anchor="middle" fill="#111">Relative fold change</text>
<text x="122.50" y="572.40" font-size="13.2" text-anchor="middle" font-weight="normal" fill="#111">Nppa</text>
<text x="230.00" y="572.40" font-size="13.2" text-anchor="middle" font-weight="normal" fill="#111">Nppb</text>
<text x="339.00" y="572.40" font-size="13.2" text-anchor="middle" font-weight="normal" fill="#111">Myh7</text>
<text x="446.50" y="572.40" font-size="13.2" text-anchor="middle" font-weight="normal" fill="#111">Fhl1</text>
<text x="554.50" y="572.40" font-size="13.2" text-anchor="middle" font-weight="normal" fill="#111">Col1a2</text>
<rect x="544.90" y="400.20" width="12.70" height="10.40" fill="#888a88"/>
<text x="561.60" y="409.00" font-size="11.1" text-anchor="start" font-weight="normal" fill="#111">WT-sham</text>
<rect x="544.90" y="413.85" width="12.70" height="10.40" fill="#dc6049"/>
<text x="561.60" y="422.60" font-size="11.1" text-anchor="start" font-weight="normal" fill="#111">WT-TAC</text>
<rect x="544.90" y="427.50" width="12.70" height="10.40" fill="#1f8a58"/>
<text x="561.60" y="436.20" font-size="11.1" text-anchor="start" font-weight="normal" fill="#111">KO-sham</text>
<rect x="544.90" y="441.15" width="12.70" height="10.40" fill="#7e4c6e"/>
<text x="561.60" y="449.80" font-size="11.1" text-anchor="start" font-weight="normal" fill="#111">KO-TAC</text>
<text x="111.50" y="407.00" font-size="14.5" text-anchor="middle" font-weight="normal" fill="#111">*</text>
<text x="157.00" y="479.60" font-size="12.3" text-anchor="middle" font-weight="normal" fill="#111">#</text>
<text x="219.00" y="516.30" font-size="14.5" text-anchor="middle" font-weight="normal" fill="#111">*</text>
<text x="265.00" y="539.60" font-size="12.3" text-anchor="middle" font-weight="normal" fill="#111">#</text>
<text x="327.50" y="457.30" font-size="14.5" text-anchor="middle" font-weight="normal" fill="#111">*</text>
<text x="374.00" y="492.60" font-size="12.3" text-anchor="middle" font-weight="normal" fill="#111">#</text>
<text x="435.50" y="497.30" font-size="14.5" text-anchor="middle" font-weight="normal" fill="#111">*</text>
<text x="481.50" y="512.60" font-size="12.3" text-anchor="middle" font-weight="normal" fill="#111">#</text>
<text x="543.50" y="495.30" font-size="14.5" text-anchor="middle" font-weight="normal" fill="#111">*</text>
<text x="589.50" y="523.10" font-size="12.3" text-anchor="middle" font-weight="normal" fill="#111">#</text>
</svg>
</body></html>
